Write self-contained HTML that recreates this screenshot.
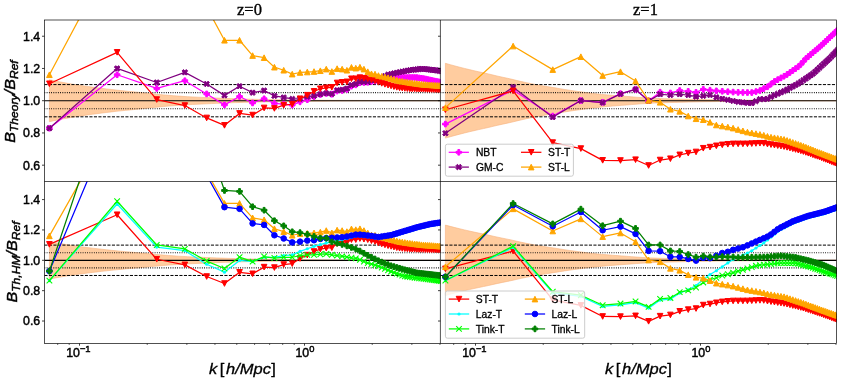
<!DOCTYPE html>
<html><head><meta charset="utf-8"><style>
html,body{margin:0;padding:0;background:#fff;}
body{width:843px;height:382px;overflow:hidden;}
svg{display:block;will-change:transform;}
text{font-family:"Liberation Sans",sans-serif;fill:#000;}
.tk{font-size:12.3px;stroke:#000;stroke-width:0.45px;}
.sup{font-size:9.4px;}
.lg{font-size:10.3px;fill:#000;stroke:#000;stroke-width:0.3px;}
.xl{font-size:14.6px;stroke:#000;stroke-width:0.3px;}
.it{font-style:italic;}
.ti{font-family:"Liberation Serif",serif;font-size:16.5px;stroke:#000;stroke-width:0.35px;}
.yl{font-size:15.4px;font-style:italic;stroke:#000;stroke-width:0.45px;}
.sub{font-size:11.6px;}
</style></head><body>
<svg width="843" height="382" viewBox="0 0 843 382">
<rect width="843" height="382" fill="#fff"/>
<clipPath id="c01"><rect x="44.4" y="20.0" width="396.0" height="161.5"/></clipPath>
<g clip-path="url(#c01)">
<path d="M49.40,79.74L54.17,80.75L58.94,81.70L63.70,82.61L68.47,83.47L73.24,84.28L78.01,85.04L82.77,85.76L87.54,86.45L92.31,87.11L97.08,87.74L101.84,88.36L106.61,88.95L111.38,89.51L116.15,90.05L120.91,90.56L125.68,91.05L130.45,91.52L135.22,91.97L139.98,92.40L144.75,92.95L149.52,93.49L154.29,94.00L159.05,94.47L163.82,94.90L168.59,95.31L173.36,95.69L178.12,96.05L182.89,96.37L187.66,96.68L192.43,96.93L197.20,97.17L201.96,97.40L206.73,97.60L211.50,97.80L216.27,98.03L221.03,98.25L225.80,98.44L230.57,98.62L235.34,98.79L240.10,98.94L244.87,99.07L249.64,99.20L254.41,99.31L259.17,99.41L263.94,99.51L268.71,99.60L273.48,99.68L278.24,99.76L283.01,99.83L287.78,99.90L292.55,99.96L297.31,100.01L302.08,100.06L306.85,100.11L311.62,100.16L316.39,100.20L321.15,100.23L325.92,100.27L330.69,100.30L335.46,100.33L340.22,100.36L344.99,100.38L349.76,100.41L354.53,100.43L359.29,100.45L364.06,100.47L368.83,100.49L373.60,100.50L378.36,100.52L383.13,100.53L387.90,100.54L392.67,100.56L397.43,100.57L402.20,100.58L406.97,100.59L411.74,100.59L416.50,100.60L421.27,100.61L426.04,100.62L430.81,100.62L435.57,100.63L440.34,100.63L440.34,100.77L435.57,100.77L430.81,100.78L426.04,100.78L421.27,100.79L416.50,100.80L411.74,100.81L406.97,100.81L402.20,100.82L397.43,100.83L392.67,100.84L387.90,100.86L383.13,100.87L378.36,100.88L373.60,100.90L368.83,100.91L364.06,100.93L359.29,100.95L354.53,100.97L349.76,100.99L344.99,101.02L340.22,101.04L335.46,101.07L330.69,101.10L325.92,101.13L321.15,101.17L316.39,101.20L311.62,101.24L306.85,101.29L302.08,101.34L297.31,101.39L292.55,101.44L287.78,101.50L283.01,101.57L278.24,101.64L273.48,101.72L268.71,101.80L263.94,101.89L259.17,101.99L254.41,102.09L249.64,102.20L244.87,102.33L240.10,102.46L235.34,102.61L230.57,102.78L225.80,102.96L221.03,103.15L216.27,103.37L211.50,103.60L206.73,103.80L201.96,104.00L197.20,104.23L192.43,104.47L187.66,104.72L182.89,105.03L178.12,105.35L173.36,105.71L168.59,106.09L163.82,106.50L159.05,106.93L154.29,107.40L149.52,107.91L144.75,108.45L139.98,109.00L135.22,109.43L130.45,109.88L125.68,110.35L120.91,110.84L116.15,111.35L111.38,111.89L106.61,112.45L101.84,113.04L97.08,113.66L92.31,114.29L87.54,114.95L82.77,115.64L78.01,116.36L73.24,117.12L68.47,117.93L63.70,118.79L58.94,119.70L54.17,120.65L49.40,121.66Z" fill="#ffcc9f" stroke="#f6b27e" stroke-width="0.6"/>
<line x1="44.4" x2="440.4" y1="100.70" y2="100.70" stroke="#000" stroke-width="1.15"/>
<line x1="44.4" x2="440.4" y1="84.58" y2="84.58" stroke="#000" stroke-width="1.0" stroke-dasharray="3.1 1.4"/>
<line x1="44.4" x2="440.4" y1="116.82" y2="116.82" stroke="#000" stroke-width="1.0" stroke-dasharray="3.1 1.4"/>
<line x1="44.4" x2="440.4" y1="92.64" y2="92.64" stroke="#000" stroke-width="1.1" stroke-dasharray="0.85 1.4"/>
<line x1="44.4" x2="440.4" y1="108.76" y2="108.76" stroke="#000" stroke-width="1.1" stroke-dasharray="0.85 1.4"/>
<path d="M49.40,128.27L117.13,74.75L156.75,88.45L184.86,80.71L206.67,93.93L224.48,104.89L239.55,96.51L252.60,102.96L264.10,98.77L274.40,103.44L283.71,104.09L292.22,105.05L300.04,101.83L307.28,99.73L314.02,96.67L320.33,94.57L326.25,93.45L331.84,94.25L337.12,91.03L342.13,90.54L346.90,89.42L351.45,86.19L355.79,84.90L359.95,82.65L363.94,82.48L367.77,82.32L371.46,81.36L375.01,81.03L378.44,80.55L381.75,79.59L384.96,78.67L388.06,78.05L391.07,77.84L393.98,77.64L396.82,77.45L399.57,77.35L402.25,77.43L404.85,77.49L407.39,77.49L409.86,77.49L412.28,77.49L414.63,77.49L416.93,77.60L419.18,77.95L421.37,78.29L423.52,78.62L425.62,79.03L427.68,79.49L429.69,79.93L431.67,80.37L433.60,80.81L435.50,81.20L437.36,81.58L439.19,81.96L440.98,82.33L442.74,82.69L444.47,83.05" fill="none" stroke="#ff00ff" stroke-width="1.25" stroke-linejoin="round"/>
<path d="M48.47,125.47L50.33,125.47L50.33,127.33L52.20,127.33L52.20,129.20L50.33,129.20L50.33,131.07L48.47,131.07L48.47,129.20L46.60,129.20L46.60,127.33L48.47,127.33ZM116.20,71.95L118.07,71.95L118.07,73.81L119.93,73.81L119.93,75.68L118.07,75.68L118.07,77.55L116.20,77.55L116.20,75.68L114.33,75.68L114.33,73.81L116.20,73.81ZM155.82,85.65L157.69,85.65L157.69,87.52L159.55,87.52L159.55,89.38L157.69,89.38L157.69,91.25L155.82,91.25L155.82,89.38L153.95,89.38L153.95,87.52L155.82,87.52ZM183.93,77.91L185.80,77.91L185.80,79.78L187.66,79.78L187.66,81.64L185.80,81.64L185.80,83.51L183.93,83.51L183.93,81.64L182.06,81.64L182.06,79.78L183.93,79.78ZM205.73,91.13L207.60,91.13L207.60,93.00L209.47,93.00L209.47,94.86L207.60,94.86L207.60,96.73L205.73,96.73L205.73,94.86L203.87,94.86L203.87,93.00L205.73,93.00ZM223.55,102.09L225.42,102.09L225.42,103.96L227.28,103.96L227.28,105.82L225.42,105.82L225.42,107.69L223.55,107.69L223.55,105.82L221.68,105.82L221.68,103.96L223.55,103.96ZM238.61,93.71L240.48,93.71L240.48,95.58L242.35,95.58L242.35,97.44L240.48,97.44L240.48,99.31L238.61,99.31L238.61,97.44L236.75,97.44L236.75,95.58L238.61,95.58ZM251.66,100.16L253.53,100.16L253.53,102.02L255.40,102.02L255.40,103.89L253.53,103.89L253.53,105.76L251.66,105.76L251.66,103.89L249.80,103.89L249.80,102.02L251.66,102.02ZM263.17,95.97L265.04,95.97L265.04,97.83L266.90,97.83L266.90,99.70L265.04,99.70L265.04,101.57L263.17,101.57L263.17,99.70L261.30,99.70L261.30,97.83L263.17,97.83ZM273.47,100.64L275.33,100.64L275.33,102.51L277.20,102.51L277.20,104.37L275.33,104.37L275.33,106.24L273.47,106.24L273.47,104.37L271.60,104.37L271.60,102.51L273.47,102.51ZM282.78,101.29L284.65,101.29L284.65,103.15L286.51,103.15L286.51,105.02L284.65,105.02L284.65,106.89L282.78,106.89L282.78,105.02L280.91,105.02L280.91,103.15L282.78,103.15ZM291.28,102.25L293.15,102.25L293.15,104.12L295.02,104.12L295.02,105.99L293.15,105.99L293.15,107.85L291.28,107.85L291.28,105.99L289.42,105.99L289.42,104.12L291.28,104.12ZM299.10,99.03L300.97,99.03L300.97,100.90L302.84,100.90L302.84,102.76L300.97,102.76L300.97,104.63L299.10,104.63L299.10,102.76L297.24,102.76L297.24,100.90L299.10,100.90ZM306.35,96.93L308.21,96.93L308.21,98.80L310.08,98.80L310.08,100.67L308.21,100.67L308.21,102.53L306.35,102.53L306.35,100.67L304.48,100.67L304.48,98.80L306.35,98.80ZM313.09,93.87L314.95,93.87L314.95,95.74L316.82,95.74L316.82,97.60L314.95,97.60L314.95,99.47L313.09,99.47L313.09,97.60L311.22,97.60L311.22,95.74L313.09,95.74ZM319.39,91.77L321.26,91.77L321.26,93.64L323.13,93.64L323.13,95.51L321.26,95.51L321.26,97.37L319.39,97.37L319.39,95.51L317.53,95.51L317.53,93.64L319.39,93.64ZM325.32,90.65L327.18,90.65L327.18,92.51L329.05,92.51L329.05,94.38L327.18,94.38L327.18,96.25L325.32,96.25L325.32,94.38L323.45,94.38L323.45,92.51L325.32,92.51ZM330.90,91.45L332.77,91.45L332.77,93.32L334.64,93.32L334.64,95.19L332.77,95.19L332.77,97.05L330.90,97.05L330.90,95.19L329.04,95.19L329.04,93.32L330.90,93.32ZM336.19,88.23L338.05,88.23L338.05,90.09L339.92,90.09L339.92,91.96L338.05,91.96L338.05,93.83L336.19,93.83L336.19,91.96L334.32,91.96L334.32,90.09L336.19,90.09ZM341.20,87.74L343.07,87.74L343.07,89.61L344.93,89.61L344.93,91.48L343.07,91.48L343.07,93.34L341.20,93.34L341.20,91.48L339.33,91.48L339.33,89.61L341.20,89.61ZM345.97,86.62L347.83,86.62L347.83,88.48L349.70,88.48L349.70,90.35L347.83,90.35L347.83,92.22L345.97,92.22L345.97,90.35L344.10,90.35L344.10,88.48L345.97,88.48ZM350.51,83.39L352.38,83.39L352.38,85.26L354.25,85.26L354.25,87.13L352.38,87.13L352.38,88.99L350.51,88.99L350.51,87.13L348.65,87.13L348.65,85.26L350.51,85.26ZM354.86,82.10L356.72,82.10L356.72,83.97L358.59,83.97L358.59,85.84L356.72,85.84L356.72,87.70L354.86,87.70L354.86,85.84L352.99,85.84L352.99,83.97L354.86,83.97ZM359.01,79.85L360.88,79.85L360.88,81.71L362.75,81.71L362.75,83.58L360.88,83.58L360.88,85.45L359.01,85.45L359.01,83.58L357.15,83.58L357.15,81.71L359.01,81.71ZM363.00,79.68L364.87,79.68L364.87,81.55L366.74,81.55L366.74,83.42L364.87,83.42L364.87,85.28L363.00,85.28L363.00,83.42L361.14,83.42L361.14,81.55L363.00,81.55ZM366.84,79.52L368.70,79.52L368.70,81.39L370.57,81.39L370.57,83.26L368.70,83.26L368.70,85.12L366.84,85.12L366.84,83.26L364.97,83.26L364.97,81.39L366.84,81.39ZM370.52,78.56L372.39,78.56L372.39,80.42L374.26,80.42L374.26,82.29L372.39,82.29L372.39,84.16L370.52,84.16L370.52,82.29L368.66,82.29L368.66,80.42L370.52,80.42ZM374.08,78.23L375.94,78.23L375.94,80.10L377.81,80.10L377.81,81.97L375.94,81.97L375.94,83.83L374.08,83.83L374.08,81.97L372.21,81.97L372.21,80.10L374.08,80.10ZM377.51,77.75L379.37,77.75L379.37,79.62L381.24,79.62L381.24,81.48L379.37,81.48L379.37,83.35L377.51,83.35L377.51,81.48L375.64,81.48L375.64,79.62L377.51,79.62ZM380.82,76.79L382.69,76.79L382.69,78.66L384.55,78.66L384.55,80.53L382.69,80.53L382.69,82.39L380.82,82.39L380.82,80.53L378.95,80.53L378.95,78.66L380.82,78.66ZM384.02,75.87L385.89,75.87L385.89,77.73L387.76,77.73L387.76,79.60L385.89,79.60L385.89,81.47L384.02,81.47L384.02,79.60L382.16,79.60L382.16,77.73L384.02,77.73ZM387.13,75.25L388.99,75.25L388.99,77.11L390.86,77.11L390.86,78.98L388.99,78.98L388.99,80.85L387.13,80.85L387.13,78.98L385.26,78.98L385.26,77.11L387.13,77.11ZM390.13,75.04L392.00,75.04L392.00,76.91L393.87,76.91L393.87,78.77L392.00,78.77L392.00,80.64L390.13,80.64L390.13,78.77L388.27,78.77L388.27,76.91L390.13,76.91ZM393.05,74.84L394.92,74.84L394.92,76.71L396.78,76.71L396.78,78.57L394.92,78.57L394.92,80.44L393.05,80.44L393.05,78.57L391.18,78.57L391.18,76.71L393.05,76.71ZM395.88,74.65L397.75,74.65L397.75,76.51L399.62,76.51L399.62,78.38L397.75,78.38L397.75,80.25L395.88,80.25L395.88,78.38L394.02,78.38L394.02,76.51L395.88,76.51ZM398.63,74.55L400.50,74.55L400.50,76.42L402.37,76.42L402.37,78.29L400.50,78.29L400.50,80.15L398.63,80.15L398.63,78.29L396.77,78.29L396.77,76.42L398.63,76.42ZM401.31,74.63L403.18,74.63L403.18,76.49L405.05,76.49L405.05,78.36L403.18,78.36L403.18,80.23L401.31,80.23L401.31,78.36L399.45,78.36L399.45,76.49L401.31,76.49ZM403.92,74.69L405.78,74.69L405.78,76.55L407.65,76.55L407.65,78.42L405.78,78.42L405.78,80.29L403.92,80.29L403.92,78.42L402.05,78.42L402.05,76.55L403.92,76.55ZM406.46,74.69L408.32,74.69L408.32,76.55L410.19,76.55L410.19,78.42L408.32,78.42L408.32,80.29L406.46,80.29L406.46,78.42L404.59,78.42L404.59,76.55L406.46,76.55ZM408.93,74.69L410.80,74.69L410.80,76.55L412.66,76.55L412.66,78.42L410.80,78.42L410.80,80.29L408.93,80.29L408.93,78.42L407.06,78.42L407.06,76.55L408.93,76.55ZM411.34,74.69L413.21,74.69L413.21,76.55L415.08,76.55L415.08,78.42L413.21,78.42L413.21,80.29L411.34,80.29L411.34,78.42L409.48,78.42L409.48,76.55L411.34,76.55ZM413.70,74.69L415.56,74.69L415.56,76.55L417.43,76.55L417.43,78.42L415.56,78.42L415.56,80.29L413.70,80.29L413.70,78.42L411.83,78.42L411.83,76.55L413.70,76.55ZM416.00,74.80L417.86,74.80L417.86,76.67L419.73,76.67L419.73,78.53L417.86,78.53L417.86,80.40L416.00,80.40L416.00,78.53L414.13,78.53L414.13,76.67L416.00,76.67ZM418.24,75.15L420.11,75.15L420.11,77.02L421.98,77.02L421.98,78.88L420.11,78.88L420.11,80.75L418.24,80.75L418.24,78.88L416.38,78.88L416.38,77.02L418.24,77.02ZM420.44,75.49L422.31,75.49L422.31,77.36L424.17,77.36L424.17,79.22L422.31,79.22L422.31,81.09L420.44,81.09L420.44,79.22L418.57,79.22L418.57,77.36L420.44,77.36ZM422.59,75.82L424.45,75.82L424.45,77.69L426.32,77.69L426.32,79.56L424.45,79.56L424.45,81.42L422.59,81.42L422.59,79.56L420.72,79.56L420.72,77.69L422.59,77.69ZM424.69,76.23L426.56,76.23L426.56,78.09L428.42,78.09L428.42,79.96L426.56,79.96L426.56,81.83L424.69,81.83L424.69,79.96L422.82,79.96L422.82,78.09L424.69,78.09ZM426.75,76.69L428.61,76.69L428.61,78.55L430.48,78.55L430.48,80.42L428.61,80.42L428.61,82.29L426.75,82.29L426.75,80.42L424.88,80.42L424.88,78.55L426.75,78.55ZM428.76,77.13L430.63,77.13L430.63,79.00L432.49,79.00L432.49,80.87L430.63,80.87L430.63,82.73L428.76,82.73L428.76,80.87L426.89,80.87L426.89,79.00L428.76,79.00ZM430.73,77.57L432.60,77.57L432.60,79.44L434.47,79.44L434.47,81.31L432.60,81.31L432.60,83.17L430.73,83.17L430.73,81.31L428.87,81.31L428.87,79.44L430.73,79.44ZM432.67,78.01L434.54,78.01L434.54,79.87L436.40,79.87L436.40,81.74L434.54,81.74L434.54,83.61L432.67,83.61L432.67,81.74L430.80,81.74L430.80,79.87L432.67,79.87ZM434.57,78.40L436.43,78.40L436.43,80.27L438.30,80.27L438.30,82.14L436.43,82.14L436.43,84.00L434.57,84.00L434.57,82.14L432.70,82.14L432.70,80.27L434.57,80.27ZM436.43,78.78L438.30,78.78L438.30,80.65L440.16,80.65L440.16,82.52L438.30,82.52L438.30,84.38L436.43,84.38L436.43,82.52L434.56,82.52L434.56,80.65L436.43,80.65ZM438.26,79.16L440.12,79.16L440.12,81.03L441.99,81.03L441.99,82.89L440.12,82.89L440.12,84.76L438.26,84.76L438.26,82.89L436.39,82.89L436.39,81.03L438.26,81.03ZM440.05,79.53L441.91,79.53L441.91,81.40L443.78,81.40L443.78,83.26L441.91,83.26L441.91,85.13L440.05,85.13L440.05,83.26L438.18,83.26L438.18,81.40L440.05,81.40ZM441.81,79.89L443.68,79.89L443.68,81.76L445.54,81.76L445.54,83.63L443.68,83.63L443.68,85.49L441.81,85.49L441.81,83.63L439.94,83.63L439.94,81.76L441.81,81.76ZM443.54,80.25L445.41,80.25L445.41,82.11L447.27,82.11L447.27,83.98L445.41,83.98L445.41,85.85L443.54,85.85L443.54,83.98L441.67,83.98L441.67,82.11L443.54,82.11Z" fill="#ff00ff" stroke="#ff00ff" stroke-width="1.0" stroke-linejoin="miter"/>
<path d="M49.40,128.27L117.13,68.46L156.75,82.48L184.86,72.33L206.67,83.94L224.48,95.38L239.55,86.19L252.60,92.64L264.10,90.54L274.40,95.86L283.71,97.48L292.22,98.93L300.04,98.77L307.28,96.67L314.02,95.86L320.33,94.25L326.25,93.28L331.84,93.93L337.12,90.22L342.13,89.74L346.90,88.61L351.45,85.06L355.79,83.94L359.95,81.52L363.94,81.52L367.77,81.36L371.46,80.23L375.01,80.07L378.44,79.74L381.75,77.83L384.96,75.97L388.06,74.63L391.07,73.98L393.98,73.34L396.82,72.72L399.57,72.14L402.25,71.63L404.85,71.13L407.39,70.65L409.86,70.17L412.28,69.87L414.63,69.61L416.93,69.35L419.18,69.10L421.37,68.86L423.52,68.94L425.62,69.17L427.68,69.39L429.69,69.61L431.67,69.83L433.60,70.04L435.50,70.29L437.36,70.54L439.19,70.79L440.98,71.04L442.74,71.28L444.47,71.52" fill="none" stroke="#800080" stroke-width="1.25" stroke-linejoin="round"/>
<path d="M48.00,125.47L49.40,126.87L50.80,125.47L52.20,126.87L50.80,128.27L52.20,129.67L50.80,131.07L49.40,129.67L48.00,131.07L46.60,129.67L48.00,128.27L46.60,126.87ZM115.73,65.66L117.13,67.06L118.53,65.66L119.93,67.06L118.53,68.46L119.93,69.86L118.53,71.26L117.13,69.86L115.73,71.26L114.33,69.86L115.73,68.46L114.33,67.06ZM155.35,79.68L156.75,81.08L158.15,79.68L159.55,81.08L158.15,82.48L159.55,83.88L158.15,85.28L156.75,83.88L155.35,85.28L153.95,83.88L155.35,82.48L153.95,81.08ZM183.46,69.53L184.86,70.93L186.26,69.53L187.66,70.93L186.26,72.33L187.66,73.73L186.26,75.13L184.86,73.73L183.46,75.13L182.06,73.73L183.46,72.33L182.06,70.93ZM205.27,81.14L206.67,82.54L208.07,81.14L209.47,82.54L208.07,83.94L209.47,85.34L208.07,86.74L206.67,85.34L205.27,86.74L203.87,85.34L205.27,83.94L203.87,82.54ZM223.08,92.58L224.48,93.98L225.88,92.58L227.28,93.98L225.88,95.38L227.28,96.78L225.88,98.18L224.48,96.78L223.08,98.18L221.68,96.78L223.08,95.38L221.68,93.98ZM238.15,83.39L239.55,84.79L240.95,83.39L242.35,84.79L240.95,86.19L242.35,87.59L240.95,88.99L239.55,87.59L238.15,88.99L236.75,87.59L238.15,86.19L236.75,84.79ZM251.20,89.84L252.60,91.24L254.00,89.84L255.40,91.24L254.00,92.64L255.40,94.04L254.00,95.44L252.60,94.04L251.20,95.44L249.80,94.04L251.20,92.64L249.80,91.24ZM262.70,87.74L264.10,89.14L265.50,87.74L266.90,89.14L265.50,90.54L266.90,91.94L265.50,93.34L264.10,91.94L262.70,93.34L261.30,91.94L262.70,90.54L261.30,89.14ZM273.00,93.06L274.40,94.46L275.80,93.06L277.20,94.46L275.80,95.86L277.20,97.26L275.80,98.66L274.40,97.26L273.00,98.66L271.60,97.26L273.00,95.86L271.60,94.46ZM282.31,94.68L283.71,96.08L285.11,94.68L286.51,96.08L285.11,97.48L286.51,98.88L285.11,100.28L283.71,98.88L282.31,100.28L280.91,98.88L282.31,97.48L280.91,96.08ZM290.82,96.13L292.22,97.53L293.62,96.13L295.02,97.53L293.62,98.93L295.02,100.33L293.62,101.73L292.22,100.33L290.82,101.73L289.42,100.33L290.82,98.93L289.42,97.53ZM298.64,95.97L300.04,97.37L301.44,95.97L302.84,97.37L301.44,98.77L302.84,100.17L301.44,101.57L300.04,100.17L298.64,101.57L297.24,100.17L298.64,98.77L297.24,97.37ZM305.88,93.87L307.28,95.27L308.68,93.87L310.08,95.27L308.68,96.67L310.08,98.07L308.68,99.47L307.28,98.07L305.88,99.47L304.48,98.07L305.88,96.67L304.48,95.27ZM312.62,93.06L314.02,94.46L315.42,93.06L316.82,94.46L315.42,95.86L316.82,97.26L315.42,98.66L314.02,97.26L312.62,98.66L311.22,97.26L312.62,95.86L311.22,94.46ZM318.93,91.45L320.33,92.85L321.73,91.45L323.13,92.85L321.73,94.25L323.13,95.65L321.73,97.05L320.33,95.65L318.93,97.05L317.53,95.65L318.93,94.25L317.53,92.85ZM324.85,90.48L326.25,91.88L327.65,90.48L329.05,91.88L327.65,93.28L329.05,94.68L327.65,96.08L326.25,94.68L324.85,96.08L323.45,94.68L324.85,93.28L323.45,91.88ZM330.44,91.13L331.84,92.53L333.24,91.13L334.64,92.53L333.24,93.93L334.64,95.33L333.24,96.73L331.84,95.33L330.44,96.73L329.04,95.33L330.44,93.93L329.04,92.53ZM335.72,87.42L337.12,88.82L338.52,87.42L339.92,88.82L338.52,90.22L339.92,91.62L338.52,93.02L337.12,91.62L335.72,93.02L334.32,91.62L335.72,90.22L334.32,88.82ZM340.73,86.94L342.13,88.34L343.53,86.94L344.93,88.34L343.53,89.74L344.93,91.14L343.53,92.54L342.13,91.14L340.73,92.54L339.33,91.14L340.73,89.74L339.33,88.34ZM345.50,85.81L346.90,87.21L348.30,85.81L349.70,87.21L348.30,88.61L349.70,90.01L348.30,91.41L346.90,90.01L345.50,91.41L344.10,90.01L345.50,88.61L344.10,87.21ZM350.05,82.26L351.45,83.66L352.85,82.26L354.25,83.66L352.85,85.06L354.25,86.46L352.85,87.86L351.45,86.46L350.05,87.86L348.65,86.46L350.05,85.06L348.65,83.66ZM354.39,81.14L355.79,82.54L357.19,81.14L358.59,82.54L357.19,83.94L358.59,85.34L357.19,86.74L355.79,85.34L354.39,86.74L352.99,85.34L354.39,83.94L352.99,82.54ZM358.55,78.72L359.95,80.12L361.35,78.72L362.75,80.12L361.35,81.52L362.75,82.92L361.35,84.32L359.95,82.92L358.55,84.32L357.15,82.92L358.55,81.52L357.15,80.12ZM362.54,78.72L363.94,80.12L365.34,78.72L366.74,80.12L365.34,81.52L366.74,82.92L365.34,84.32L363.94,82.92L362.54,84.32L361.14,82.92L362.54,81.52L361.14,80.12ZM366.37,78.56L367.77,79.96L369.17,78.56L370.57,79.96L369.17,81.36L370.57,82.76L369.17,84.16L367.77,82.76L366.37,84.16L364.97,82.76L366.37,81.36L364.97,79.96ZM370.06,77.43L371.46,78.83L372.86,77.43L374.26,78.83L372.86,80.23L374.26,81.63L372.86,83.03L371.46,81.63L370.06,83.03L368.66,81.63L370.06,80.23L368.66,78.83ZM373.61,77.27L375.01,78.67L376.41,77.27L377.81,78.67L376.41,80.07L377.81,81.47L376.41,82.87L375.01,81.47L373.61,82.87L372.21,81.47L373.61,80.07L372.21,78.67ZM377.04,76.94L378.44,78.34L379.84,76.94L381.24,78.34L379.84,79.74L381.24,81.14L379.84,82.54L378.44,81.14L377.04,82.54L375.64,81.14L377.04,79.74L375.64,78.34ZM380.35,75.03L381.75,76.43L383.15,75.03L384.55,76.43L383.15,77.83L384.55,79.23L383.15,80.63L381.75,79.23L380.35,80.63L378.95,79.23L380.35,77.83L378.95,76.43ZM383.56,73.17L384.96,74.57L386.36,73.17L387.76,74.57L386.36,75.97L387.76,77.37L386.36,78.77L384.96,77.37L383.56,78.77L382.16,77.37L383.56,75.97L382.16,74.57ZM386.66,71.83L388.06,73.23L389.46,71.83L390.86,73.23L389.46,74.63L390.86,76.03L389.46,77.43L388.06,76.03L386.66,77.43L385.26,76.03L386.66,74.63L385.26,73.23ZM389.67,71.18L391.07,72.58L392.47,71.18L393.87,72.58L392.47,73.98L393.87,75.38L392.47,76.78L391.07,75.38L389.67,76.78L388.27,75.38L389.67,73.98L388.27,72.58ZM392.58,70.54L393.98,71.94L395.38,70.54L396.78,71.94L395.38,73.34L396.78,74.74L395.38,76.14L393.98,74.74L392.58,76.14L391.18,74.74L392.58,73.34L391.18,71.94ZM395.42,69.92L396.82,71.32L398.22,69.92L399.62,71.32L398.22,72.72L399.62,74.12L398.22,75.52L396.82,74.12L395.42,75.52L394.02,74.12L395.42,72.72L394.02,71.32ZM398.17,69.34L399.57,70.74L400.97,69.34L402.37,70.74L400.97,72.14L402.37,73.54L400.97,74.94L399.57,73.54L398.17,74.94L396.77,73.54L398.17,72.14L396.77,70.74ZM400.85,68.83L402.25,70.23L403.65,68.83L405.05,70.23L403.65,71.63L405.05,73.03L403.65,74.43L402.25,73.03L400.85,74.43L399.45,73.03L400.85,71.63L399.45,70.23ZM403.45,68.33L404.85,69.73L406.25,68.33L407.65,69.73L406.25,71.13L407.65,72.53L406.25,73.93L404.85,72.53L403.45,73.93L402.05,72.53L403.45,71.13L402.05,69.73ZM405.99,67.85L407.39,69.25L408.79,67.85L410.19,69.25L408.79,70.65L410.19,72.05L408.79,73.45L407.39,72.05L405.99,73.45L404.59,72.05L405.99,70.65L404.59,69.25ZM408.46,67.37L409.86,68.77L411.26,67.37L412.66,68.77L411.26,70.17L412.66,71.57L411.26,72.97L409.86,71.57L408.46,72.97L407.06,71.57L408.46,70.17L407.06,68.77ZM410.88,67.07L412.28,68.47L413.68,67.07L415.08,68.47L413.68,69.87L415.08,71.27L413.68,72.67L412.28,71.27L410.88,72.67L409.48,71.27L410.88,69.87L409.48,68.47ZM413.23,66.81L414.63,68.21L416.03,66.81L417.43,68.21L416.03,69.61L417.43,71.01L416.03,72.41L414.63,71.01L413.23,72.41L411.83,71.01L413.23,69.61L411.83,68.21ZM415.53,66.55L416.93,67.95L418.33,66.55L419.73,67.95L418.33,69.35L419.73,70.75L418.33,72.15L416.93,70.75L415.53,72.15L414.13,70.75L415.53,69.35L414.13,67.95ZM417.78,66.30L419.18,67.70L420.58,66.30L421.98,67.70L420.58,69.10L421.98,70.50L420.58,71.90L419.18,70.50L417.78,71.90L416.38,70.50L417.78,69.10L416.38,67.70ZM419.97,66.06L421.37,67.46L422.77,66.06L424.17,67.46L422.77,68.86L424.17,70.26L422.77,71.66L421.37,70.26L419.97,71.66L418.57,70.26L419.97,68.86L418.57,67.46ZM422.12,66.14L423.52,67.54L424.92,66.14L426.32,67.54L424.92,68.94L426.32,70.34L424.92,71.74L423.52,70.34L422.12,71.74L420.72,70.34L422.12,68.94L420.72,67.54ZM424.22,66.37L425.62,67.77L427.02,66.37L428.42,67.77L427.02,69.17L428.42,70.57L427.02,71.97L425.62,70.57L424.22,71.97L422.82,70.57L424.22,69.17L422.82,67.77ZM426.28,66.59L427.68,67.99L429.08,66.59L430.48,67.99L429.08,69.39L430.48,70.79L429.08,72.19L427.68,70.79L426.28,72.19L424.88,70.79L426.28,69.39L424.88,67.99ZM428.29,66.81L429.69,68.21L431.09,66.81L432.49,68.21L431.09,69.61L432.49,71.01L431.09,72.41L429.69,71.01L428.29,72.41L426.89,71.01L428.29,69.61L426.89,68.21ZM430.27,67.03L431.67,68.43L433.07,67.03L434.47,68.43L433.07,69.83L434.47,71.23L433.07,72.63L431.67,71.23L430.27,72.63L428.87,71.23L430.27,69.83L428.87,68.43ZM432.20,67.24L433.60,68.64L435.00,67.24L436.40,68.64L435.00,70.04L436.40,71.44L435.00,72.84L433.60,71.44L432.20,72.84L430.80,71.44L432.20,70.04L430.80,68.64ZM434.10,67.49L435.50,68.89L436.90,67.49L438.30,68.89L436.90,70.29L438.30,71.69L436.90,73.09L435.50,71.69L434.10,73.09L432.70,71.69L434.10,70.29L432.70,68.89ZM435.96,67.74L437.36,69.14L438.76,67.74L440.16,69.14L438.76,70.54L440.16,71.94L438.76,73.34L437.36,71.94L435.96,73.34L434.56,71.94L435.96,70.54L434.56,69.14ZM437.79,67.99L439.19,69.39L440.59,67.99L441.99,69.39L440.59,70.79L441.99,72.19L440.59,73.59L439.19,72.19L437.79,73.59L436.39,72.19L437.79,70.79L436.39,69.39ZM439.58,68.24L440.98,69.64L442.38,68.24L443.78,69.64L442.38,71.04L443.78,72.44L442.38,73.84L440.98,72.44L439.58,73.84L438.18,72.44L439.58,71.04L438.18,69.64ZM441.34,68.48L442.74,69.88L444.14,68.48L445.54,69.88L444.14,71.28L445.54,72.68L444.14,74.08L442.74,72.68L441.34,74.08L439.94,72.68L441.34,71.28L439.94,69.88ZM443.07,68.72L444.47,70.12L445.87,68.72L447.27,70.12L445.87,71.52L447.27,72.92L445.87,74.32L444.47,72.92L443.07,74.32L441.67,72.92L443.07,71.52L441.67,70.12Z" fill="#800080" stroke="#800080" stroke-width="1.0" stroke-linejoin="miter"/>
<path d="M49.40,83.77L117.13,52.34L156.75,99.57L184.86,105.54L206.67,117.95L224.48,125.36L239.55,113.43L252.60,115.05L264.10,107.95L274.40,108.44L283.71,105.21L292.22,104.25L300.04,98.77L307.28,95.22L314.02,91.35L320.33,88.77L326.25,87.80L331.84,87.32L337.12,82.97L342.13,82.32L346.90,81.84L351.45,78.78L355.79,78.78L359.95,77.65L363.94,78.29L367.77,78.78L371.46,79.91L375.01,80.71L378.44,82.32L381.75,83.35L384.96,84.33L388.06,85.21L391.07,85.95L393.98,86.67L396.82,87.37L399.57,87.90L402.25,88.15L404.85,88.40L407.39,88.64L409.86,88.88L412.28,88.98L414.63,89.05L416.93,89.11L419.18,89.17L421.37,89.23L423.52,89.29L425.62,89.35L427.68,89.41L429.69,89.46L431.67,89.52L433.60,89.57L435.50,89.62L437.36,89.67L439.19,89.72L440.98,89.77L442.74,89.82L444.47,89.87" fill="none" stroke="#ff0000" stroke-width="1.25" stroke-linejoin="round"/>
<path d="M46.60,80.97L52.20,80.97L49.40,86.57ZM114.33,49.54L119.93,49.54L117.13,55.14ZM153.95,96.77L159.55,96.77L156.75,102.37ZM182.06,102.74L187.66,102.74L184.86,108.34ZM203.87,115.15L209.47,115.15L206.67,120.75ZM221.68,122.56L227.28,122.56L224.48,128.16ZM236.75,110.63L242.35,110.63L239.55,116.23ZM249.80,112.25L255.40,112.25L252.60,117.85ZM261.30,105.15L266.90,105.15L264.10,110.75ZM271.60,105.64L277.20,105.64L274.40,111.24ZM280.91,102.41L286.51,102.41L283.71,108.01ZM289.42,101.45L295.02,101.45L292.22,107.05ZM297.24,95.97L302.84,95.97L300.04,101.57ZM304.48,92.42L310.08,92.42L307.28,98.02ZM311.22,88.55L316.82,88.55L314.02,94.15ZM317.53,85.97L323.13,85.97L320.33,91.57ZM323.45,85.00L329.05,85.00L326.25,90.60ZM329.04,84.52L334.64,84.52L331.84,90.12ZM334.32,80.17L339.92,80.17L337.12,85.77ZM339.33,79.52L344.93,79.52L342.13,85.12ZM344.10,79.04L349.70,79.04L346.90,84.64ZM348.65,75.98L354.25,75.98L351.45,81.58ZM352.99,75.98L358.59,75.98L355.79,81.58ZM357.15,74.85L362.75,74.85L359.95,80.45ZM361.14,75.49L366.74,75.49L363.94,81.09ZM364.97,75.98L370.57,75.98L367.77,81.58ZM368.66,77.11L374.26,77.11L371.46,82.71ZM372.21,77.91L377.81,77.91L375.01,83.51ZM375.64,79.52L381.24,79.52L378.44,85.12ZM378.95,80.55L384.55,80.55L381.75,86.15ZM382.16,81.53L387.76,81.53L384.96,87.13ZM385.26,82.41L390.86,82.41L388.06,88.01ZM388.27,83.15L393.87,83.15L391.07,88.75ZM391.18,83.87L396.78,83.87L393.98,89.47ZM394.02,84.57L399.62,84.57L396.82,90.17ZM396.77,85.10L402.37,85.10L399.57,90.70ZM399.45,85.35L405.05,85.35L402.25,90.95ZM402.05,85.60L407.65,85.60L404.85,91.20ZM404.59,85.84L410.19,85.84L407.39,91.44ZM407.06,86.08L412.66,86.08L409.86,91.68ZM409.48,86.18L415.08,86.18L412.28,91.78ZM411.83,86.25L417.43,86.25L414.63,91.85ZM414.13,86.31L419.73,86.31L416.93,91.91ZM416.38,86.37L421.98,86.37L419.18,91.97ZM418.57,86.43L424.17,86.43L421.37,92.03ZM420.72,86.49L426.32,86.49L423.52,92.09ZM422.82,86.55L428.42,86.55L425.62,92.15ZM424.88,86.61L430.48,86.61L427.68,92.21ZM426.89,86.66L432.49,86.66L429.69,92.26ZM428.87,86.72L434.47,86.72L431.67,92.32ZM430.80,86.77L436.40,86.77L433.60,92.37ZM432.70,86.82L438.30,86.82L435.50,92.42ZM434.56,86.87L440.16,86.87L437.36,92.47ZM436.39,86.92L441.99,86.92L439.19,92.52ZM438.18,86.97L443.78,86.97L440.98,92.57ZM439.94,87.02L445.54,87.02L442.74,92.62ZM441.67,87.07L447.27,87.07L444.47,92.67Z" fill="#ff0000" stroke="#ff0000" stroke-width="1.0" stroke-linejoin="miter"/>
<path d="M49.40,74.75L117.13,-52.44L156.75,-28.26L184.86,-12.14L206.67,7.20L224.48,40.25L239.55,40.25L252.60,55.56L264.10,57.66L274.40,67.17L283.71,70.23L292.22,74.10L300.04,72.49L307.28,72.01L314.02,71.52L320.33,70.72L326.25,69.10L331.84,71.52L337.12,68.62L342.13,69.10L346.90,70.23L351.45,67.33L355.79,68.14L359.95,67.17L363.94,69.10L367.77,71.68L371.46,73.78L375.01,74.10L378.44,75.55L381.75,76.26L384.96,76.93L388.06,77.69L391.07,78.55L393.98,79.39L396.82,80.20L399.57,80.87L402.25,81.31L404.85,81.74L407.39,82.15L409.86,82.56L412.28,82.90L414.63,83.23L416.93,83.55L419.18,83.85L421.37,84.16L423.52,84.36L425.62,84.51L427.68,84.66L429.69,84.81L431.67,84.95L433.60,85.10L435.50,85.23L437.36,85.37L439.19,85.50L440.98,85.63L442.74,85.76L444.47,85.89" fill="none" stroke="#ffa500" stroke-width="1.25" stroke-linejoin="round"/>
<path d="M46.60,77.55L52.20,77.55L49.40,71.95ZM114.33,-49.64L119.93,-49.64L117.13,-55.24ZM153.95,-25.46L159.55,-25.46L156.75,-31.06ZM182.06,-9.34L187.66,-9.34L184.86,-14.94ZM203.87,10.00L209.47,10.00L206.67,4.40ZM221.68,43.05L227.28,43.05L224.48,37.45ZM236.75,43.05L242.35,43.05L239.55,37.45ZM249.80,58.36L255.40,58.36L252.60,52.76ZM261.30,60.46L266.90,60.46L264.10,54.86ZM271.60,69.97L277.20,69.97L274.40,64.37ZM280.91,73.03L286.51,73.03L283.71,67.43ZM289.42,76.90L295.02,76.90L292.22,71.30ZM297.24,75.29L302.84,75.29L300.04,69.69ZM304.48,74.81L310.08,74.81L307.28,69.21ZM311.22,74.32L316.82,74.32L314.02,68.72ZM317.53,73.52L323.13,73.52L320.33,67.92ZM323.45,71.90L329.05,71.90L326.25,66.30ZM329.04,74.32L334.64,74.32L331.84,68.72ZM334.32,71.42L339.92,71.42L337.12,65.82ZM339.33,71.90L344.93,71.90L342.13,66.30ZM344.10,73.03L349.70,73.03L346.90,67.43ZM348.65,70.13L354.25,70.13L351.45,64.53ZM352.99,70.94L358.59,70.94L355.79,65.34ZM357.15,69.97L362.75,69.97L359.95,64.37ZM361.14,71.90L366.74,71.90L363.94,66.30ZM364.97,74.48L370.57,74.48L367.77,68.88ZM368.66,76.58L374.26,76.58L371.46,70.98ZM372.21,76.90L377.81,76.90L375.01,71.30ZM375.64,78.35L381.24,78.35L378.44,72.75ZM378.95,79.06L384.55,79.06L381.75,73.46ZM382.16,79.73L387.76,79.73L384.96,74.13ZM385.26,80.49L390.86,80.49L388.06,74.89ZM388.27,81.35L393.87,81.35L391.07,75.75ZM391.18,82.19L396.78,82.19L393.98,76.59ZM394.02,83.00L399.62,83.00L396.82,77.40ZM396.77,83.67L402.37,83.67L399.57,78.07ZM399.45,84.11L405.05,84.11L402.25,78.51ZM402.05,84.54L407.65,84.54L404.85,78.94ZM404.59,84.95L410.19,84.95L407.39,79.35ZM407.06,85.36L412.66,85.36L409.86,79.76ZM409.48,85.70L415.08,85.70L412.28,80.10ZM411.83,86.03L417.43,86.03L414.63,80.43ZM414.13,86.35L419.73,86.35L416.93,80.75ZM416.38,86.65L421.98,86.65L419.18,81.05ZM418.57,86.96L424.17,86.96L421.37,81.36ZM420.72,87.16L426.32,87.16L423.52,81.56ZM422.82,87.31L428.42,87.31L425.62,81.71ZM424.88,87.46L430.48,87.46L427.68,81.86ZM426.89,87.61L432.49,87.61L429.69,82.01ZM428.87,87.75L434.47,87.75L431.67,82.15ZM430.80,87.90L436.40,87.90L433.60,82.30ZM432.70,88.03L438.30,88.03L435.50,82.43ZM434.56,88.17L440.16,88.17L437.36,82.57ZM436.39,88.30L441.99,88.30L439.19,82.70ZM438.18,88.43L443.78,88.43L440.98,82.83ZM439.94,88.56L445.54,88.56L442.74,82.96ZM441.67,88.69L447.27,88.69L444.47,83.09Z" fill="#ffa500" stroke="#ffa500" stroke-width="1.0" stroke-linejoin="miter"/>
</g>
<clipPath id="c11"><rect x="440.4" y="20.0" width="396.20000000000005" height="161.5"/></clipPath>
<g clip-path="url(#c11)">
<path d="M445.40,63.30L450.17,64.65L454.94,65.96L459.70,67.21L464.47,68.42L469.24,69.59L474.01,70.71L478.77,71.80L483.54,72.84L488.31,73.89L493.08,75.06L497.84,76.18L502.61,77.24L507.38,78.26L512.15,79.32L516.91,80.50L521.68,81.62L526.45,82.67L531.22,83.67L535.98,84.60L540.75,85.47L545.52,86.30L550.29,87.08L555.05,87.81L559.82,88.66L564.59,89.46L569.36,90.20L574.12,90.90L578.89,91.55L583.66,92.22L588.43,92.85L593.20,93.43L597.96,93.96L602.73,94.46L607.50,94.90L612.27,95.31L617.03,95.69L621.80,96.04L626.57,96.39L631.34,96.82L636.10,97.21L640.87,97.56L645.64,97.87L650.41,98.15L655.17,98.34L659.94,98.52L664.71,98.68L669.48,98.83L674.24,98.97L679.01,99.10L683.78,99.22L688.55,99.33L693.31,99.43L698.08,99.53L702.85,99.62L707.62,99.70L712.39,99.77L717.15,99.84L721.92,99.91L726.69,99.97L731.46,100.02L736.22,100.07L740.99,100.12L745.76,100.16L750.53,100.20L755.29,100.24L760.06,100.28L764.83,100.31L769.60,100.34L774.36,100.36L779.13,100.39L783.90,100.41L788.67,100.43L793.43,100.45L798.20,100.47L802.97,100.49L807.74,100.51L812.50,100.52L817.27,100.53L822.04,100.55L826.81,100.56L831.57,100.57L836.34,100.58L836.34,100.82L831.57,100.83L826.81,100.84L822.04,100.85L817.27,100.87L812.50,100.88L807.74,100.89L802.97,100.91L798.20,100.93L793.43,100.95L788.67,100.97L783.90,100.99L779.13,101.01L774.36,101.04L769.60,101.06L764.83,101.09L760.06,101.12L755.29,101.16L750.53,101.20L745.76,101.24L740.99,101.28L736.22,101.33L731.46,101.38L726.69,101.43L721.92,101.49L717.15,101.56L712.39,101.63L707.62,101.70L702.85,101.78L698.08,101.87L693.31,101.97L688.55,102.07L683.78,102.18L679.01,102.30L674.24,102.43L669.48,102.57L664.71,102.72L659.94,102.88L655.17,103.06L650.41,103.25L645.64,103.53L640.87,103.84L636.10,104.19L631.34,104.58L626.57,105.01L621.80,105.36L617.03,105.71L612.27,106.09L607.50,106.50L602.73,106.94L597.96,107.44L593.20,107.97L588.43,108.55L583.66,109.18L578.89,109.85L574.12,110.50L569.36,111.20L564.59,111.94L559.82,112.74L555.05,113.59L550.29,114.32L545.52,115.10L540.75,115.93L535.98,116.80L531.22,117.73L526.45,118.73L521.68,119.78L516.91,120.90L512.15,122.08L507.38,123.14L502.61,124.16L497.84,125.22L493.08,126.34L488.31,127.51L483.54,128.56L478.77,129.60L474.01,130.69L469.24,131.81L464.47,132.98L459.70,134.19L454.94,135.44L450.17,136.75L445.40,138.10Z" fill="#ffcc9f" stroke="#f6b27e" stroke-width="0.6"/>
<line x1="440.4" x2="836.6" y1="100.70" y2="100.70" stroke="#000" stroke-width="1.15"/>
<line x1="440.4" x2="836.6" y1="84.58" y2="84.58" stroke="#000" stroke-width="1.0" stroke-dasharray="3.1 1.4"/>
<line x1="440.4" x2="836.6" y1="116.82" y2="116.82" stroke="#000" stroke-width="1.0" stroke-dasharray="3.1 1.4"/>
<line x1="440.4" x2="836.6" y1="92.64" y2="92.64" stroke="#000" stroke-width="1.1" stroke-dasharray="0.85 1.4"/>
<line x1="440.4" x2="836.6" y1="108.76" y2="108.76" stroke="#000" stroke-width="1.1" stroke-dasharray="0.85 1.4"/>
<path d="M445.40,124.07L513.13,89.90L552.75,116.01L580.86,100.54L602.67,102.31L620.48,93.61L635.55,89.42L648.60,100.70L660.10,92.16L670.40,92.96L679.71,90.54L688.22,91.35L696.04,92.32L703.28,89.42L710.02,90.22L716.33,90.84L722.25,91.30L727.84,91.70L733.12,92.07L738.13,92.35L742.90,92.45L747.45,92.55L751.79,92.53L755.95,91.56L759.94,90.54L763.77,88.64L767.46,86.81L771.01,84.08L774.44,81.44L777.75,79.64L780.96,77.91L784.06,76.23L787.07,74.47L789.98,72.46L792.82,70.51L795.57,68.61L798.25,66.77L800.85,64.28L803.39,61.41L805.86,58.65L808.28,56.59L810.63,54.59L812.93,52.63L815.18,50.71L817.37,48.84L819.52,47.01L821.62,45.20L823.68,43.25L825.69,41.33L827.67,39.46L829.60,37.62L831.50,35.82L833.36,34.06L835.19,32.32L836.98,30.62L838.74,28.95L840.47,27.31" fill="none" stroke="#ff00ff" stroke-width="1.25" stroke-linejoin="round"/>
<path d="M444.47,121.27L446.33,121.27L446.33,123.14L448.20,123.14L448.20,125.01L446.33,125.01L446.33,126.87L444.47,126.87L444.47,125.01L442.60,125.01L442.60,123.14L444.47,123.14ZM512.20,87.10L514.07,87.10L514.07,88.97L515.93,88.97L515.93,90.83L514.07,90.83L514.07,92.70L512.20,92.70L512.20,90.83L510.33,90.83L510.33,88.97L512.20,88.97ZM551.82,113.21L553.69,113.21L553.69,115.08L555.55,115.08L555.55,116.95L553.69,116.95L553.69,118.81L551.82,118.81L551.82,116.95L549.95,116.95L549.95,115.08L551.82,115.08ZM579.93,97.74L581.80,97.74L581.80,99.61L583.66,99.61L583.66,101.47L581.80,101.47L581.80,103.34L579.93,103.34L579.93,101.47L578.06,101.47L578.06,99.61L579.93,99.61ZM601.73,99.51L603.60,99.51L603.60,101.38L605.47,101.38L605.47,103.25L603.60,103.25L603.60,105.11L601.73,105.11L601.73,103.25L599.87,103.25L599.87,101.38L601.73,101.38ZM619.55,90.81L621.42,90.81L621.42,92.67L623.28,92.67L623.28,94.54L621.42,94.54L621.42,96.41L619.55,96.41L619.55,94.54L617.68,94.54L617.68,92.67L619.55,92.67ZM634.61,86.62L636.48,86.62L636.48,88.48L638.35,88.48L638.35,90.35L636.48,90.35L636.48,92.22L634.61,92.22L634.61,90.35L632.75,90.35L632.75,88.48L634.61,88.48ZM647.66,97.90L649.53,97.90L649.53,99.77L651.40,99.77L651.40,101.63L649.53,101.63L649.53,103.50L647.66,103.50L647.66,101.63L645.80,101.63L645.80,99.77L647.66,99.77ZM659.17,89.36L661.04,89.36L661.04,91.22L662.90,91.22L662.90,93.09L661.04,93.09L661.04,94.96L659.17,94.96L659.17,93.09L657.30,93.09L657.30,91.22L659.17,91.22ZM669.47,90.16L671.33,90.16L671.33,92.03L673.20,92.03L673.20,93.90L671.33,93.90L671.33,95.76L669.47,95.76L669.47,93.90L667.60,93.90L667.60,92.03L669.47,92.03ZM678.78,87.74L680.65,87.74L680.65,89.61L682.51,89.61L682.51,91.48L680.65,91.48L680.65,93.34L678.78,93.34L678.78,91.48L676.91,91.48L676.91,89.61L678.78,89.61ZM687.28,88.55L689.15,88.55L689.15,90.42L691.02,90.42L691.02,92.28L689.15,92.28L689.15,94.15L687.28,94.15L687.28,92.28L685.42,92.28L685.42,90.42L687.28,90.42ZM695.10,89.52L696.97,89.52L696.97,91.38L698.84,91.38L698.84,93.25L696.97,93.25L696.97,95.12L695.10,95.12L695.10,93.25L693.24,93.25L693.24,91.38L695.10,91.38ZM702.35,86.62L704.21,86.62L704.21,88.48L706.08,88.48L706.08,90.35L704.21,90.35L704.21,92.22L702.35,92.22L702.35,90.35L700.48,90.35L700.48,88.48L702.35,88.48ZM709.09,87.42L710.95,87.42L710.95,89.29L712.82,89.29L712.82,91.16L710.95,91.16L710.95,93.02L709.09,93.02L709.09,91.16L707.22,91.16L707.22,89.29L709.09,89.29ZM715.39,88.04L717.26,88.04L717.26,89.90L719.13,89.90L719.13,91.77L717.26,91.77L717.26,93.64L715.39,93.64L715.39,91.77L713.53,91.77L713.53,89.90L715.39,89.90ZM721.32,88.50L723.18,88.50L723.18,90.37L725.05,90.37L725.05,92.24L723.18,92.24L723.18,94.10L721.32,94.10L721.32,92.24L719.45,92.24L719.45,90.37L721.32,90.37ZM726.90,88.90L728.77,88.90L728.77,90.76L730.64,90.76L730.64,92.63L728.77,92.63L728.77,94.50L726.90,94.50L726.90,92.63L725.04,92.63L725.04,90.76L726.90,90.76ZM732.19,89.27L734.05,89.27L734.05,91.13L735.92,91.13L735.92,93.00L734.05,93.00L734.05,94.87L732.19,94.87L732.19,93.00L730.32,93.00L730.32,91.13L732.19,91.13ZM737.20,89.55L739.07,89.55L739.07,91.42L740.93,91.42L740.93,93.28L739.07,93.28L739.07,95.15L737.20,95.15L737.20,93.28L735.33,93.28L735.33,91.42L737.20,91.42ZM741.97,89.65L743.83,89.65L743.83,91.52L745.70,91.52L745.70,93.39L743.83,93.39L743.83,95.25L741.97,95.25L741.97,93.39L740.10,93.39L740.10,91.52L741.97,91.52ZM746.51,89.75L748.38,89.75L748.38,91.62L750.25,91.62L750.25,93.49L748.38,93.49L748.38,95.35L746.51,95.35L746.51,93.49L744.65,93.49L744.65,91.62L746.51,91.62ZM750.86,89.73L752.72,89.73L752.72,91.59L754.59,91.59L754.59,93.46L752.72,93.46L752.72,95.33L750.86,95.33L750.86,93.46L748.99,93.46L748.99,91.59L750.86,91.59ZM755.01,88.76L756.88,88.76L756.88,90.62L758.75,90.62L758.75,92.49L756.88,92.49L756.88,94.36L755.01,94.36L755.01,92.49L753.15,92.49L753.15,90.62L755.01,90.62ZM759.00,87.74L760.87,87.74L760.87,89.61L762.74,89.61L762.74,91.47L760.87,91.47L760.87,93.34L759.00,93.34L759.00,91.47L757.14,91.47L757.14,89.61L759.00,89.61ZM762.84,85.84L764.70,85.84L764.70,87.70L766.57,87.70L766.57,89.57L764.70,89.57L764.70,91.44L762.84,91.44L762.84,89.57L760.97,89.57L760.97,87.70L762.84,87.70ZM766.52,84.01L768.39,84.01L768.39,85.88L770.26,85.88L770.26,87.74L768.39,87.74L768.39,89.61L766.52,89.61L766.52,87.74L764.66,87.74L764.66,85.88L766.52,85.88ZM770.08,81.28L771.94,81.28L771.94,83.14L773.81,83.14L773.81,85.01L771.94,85.01L771.94,86.88L770.08,86.88L770.08,85.01L768.21,85.01L768.21,83.14L770.08,83.14ZM773.51,78.64L775.37,78.64L775.37,80.50L777.24,80.50L777.24,82.37L775.37,82.37L775.37,84.24L773.51,84.24L773.51,82.37L771.64,82.37L771.64,80.50L773.51,80.50ZM776.82,76.84L778.69,76.84L778.69,78.71L780.55,78.71L780.55,80.58L778.69,80.58L778.69,82.44L776.82,82.44L776.82,80.58L774.95,80.58L774.95,78.71L776.82,78.71ZM780.02,75.11L781.89,75.11L781.89,76.97L783.76,76.97L783.76,78.84L781.89,78.84L781.89,80.71L780.02,80.71L780.02,78.84L778.16,78.84L778.16,76.97L780.02,76.97ZM783.13,73.43L784.99,73.43L784.99,75.30L786.86,75.30L786.86,77.16L784.99,77.16L784.99,79.03L783.13,79.03L783.13,77.16L781.26,77.16L781.26,75.30L783.13,75.30ZM786.13,71.67L788.00,71.67L788.00,73.54L789.87,73.54L789.87,75.41L788.00,75.41L788.00,77.27L786.13,77.27L786.13,75.41L784.27,75.41L784.27,73.54L786.13,73.54ZM789.05,69.66L790.92,69.66L790.92,71.53L792.78,71.53L792.78,73.40L790.92,73.40L790.92,75.26L789.05,75.26L789.05,73.40L787.18,73.40L787.18,71.53L789.05,71.53ZM791.88,67.71L793.75,67.71L793.75,69.58L795.62,69.58L795.62,71.44L793.75,71.44L793.75,73.31L791.88,73.31L791.88,71.44L790.02,71.44L790.02,69.58L791.88,69.58ZM794.63,65.81L796.50,65.81L796.50,67.68L798.37,67.68L798.37,69.55L796.50,69.55L796.50,71.41L794.63,71.41L794.63,69.55L792.77,69.55L792.77,67.68L794.63,67.68ZM797.31,63.97L799.18,63.97L799.18,65.84L801.05,65.84L801.05,67.70L799.18,67.70L799.18,69.57L797.31,69.57L797.31,67.70L795.45,67.70L795.45,65.84L797.31,65.84ZM799.92,61.48L801.78,61.48L801.78,63.35L803.65,63.35L803.65,65.22L801.78,65.22L801.78,67.08L799.92,67.08L799.92,65.22L798.05,65.22L798.05,63.35L799.92,63.35ZM802.46,58.61L804.32,58.61L804.32,60.47L806.19,60.47L806.19,62.34L804.32,62.34L804.32,64.21L802.46,64.21L802.46,62.34L800.59,62.34L800.59,60.47L802.46,60.47ZM804.93,55.85L806.80,55.85L806.80,57.72L808.66,57.72L808.66,59.58L806.80,59.58L806.80,61.45L804.93,61.45L804.93,59.58L803.06,59.58L803.06,57.72L804.93,57.72ZM807.34,53.79L809.21,53.79L809.21,55.66L811.08,55.66L811.08,57.53L809.21,57.53L809.21,59.39L807.34,59.39L807.34,57.53L805.48,57.53L805.48,55.66L807.34,55.66ZM809.70,51.79L811.56,51.79L811.56,53.65L813.43,53.65L813.43,55.52L811.56,55.52L811.56,57.39L809.70,57.39L809.70,55.52L807.83,55.52L807.83,53.65L809.70,53.65ZM812.00,49.83L813.86,49.83L813.86,51.69L815.73,51.69L815.73,53.56L813.86,53.56L813.86,55.43L812.00,55.43L812.00,53.56L810.13,53.56L810.13,51.69L812.00,51.69ZM814.24,47.91L816.11,47.91L816.11,49.78L817.98,49.78L817.98,51.65L816.11,51.65L816.11,53.51L814.24,53.51L814.24,51.65L812.38,51.65L812.38,49.78L814.24,49.78ZM816.44,46.04L818.31,46.04L818.31,47.91L820.17,47.91L820.17,49.77L818.31,49.77L818.31,51.64L816.44,51.64L816.44,49.77L814.57,49.77L814.57,47.91L816.44,47.91ZM818.59,44.21L820.45,44.21L820.45,46.08L822.32,46.08L822.32,47.94L820.45,47.94L820.45,49.81L818.59,49.81L818.59,47.94L816.72,47.94L816.72,46.08L818.59,46.08ZM820.69,42.40L822.56,42.40L822.56,44.26L824.42,44.26L824.42,46.13L822.56,46.13L822.56,48.00L820.69,48.00L820.69,46.13L818.82,46.13L818.82,44.26L820.69,44.26ZM822.75,40.45L824.61,40.45L824.61,42.31L826.48,42.31L826.48,44.18L824.61,44.18L824.61,46.05L822.75,46.05L822.75,44.18L820.88,44.18L820.88,42.31L822.75,42.31ZM824.76,38.53L826.63,38.53L826.63,40.40L828.49,40.40L828.49,42.27L826.63,42.27L826.63,44.13L824.76,44.13L824.76,42.27L822.89,42.27L822.89,40.40L824.76,40.40ZM826.73,36.66L828.60,36.66L828.60,38.53L830.47,38.53L830.47,40.39L828.60,40.39L828.60,42.26L826.73,42.26L826.73,40.39L824.87,40.39L824.87,38.53L826.73,38.53ZM828.67,34.82L830.54,34.82L830.54,36.69L832.40,36.69L832.40,38.56L830.54,38.56L830.54,40.42L828.67,40.42L828.67,38.56L826.80,38.56L826.80,36.69L828.67,36.69ZM830.57,33.02L832.43,33.02L832.43,34.89L834.30,34.89L834.30,36.76L832.43,36.76L832.43,38.62L830.57,38.62L830.57,36.76L828.70,36.76L828.70,34.89L830.57,34.89ZM832.43,31.26L834.30,31.26L834.30,33.12L836.16,33.12L836.16,34.99L834.30,34.99L834.30,36.86L832.43,36.86L832.43,34.99L830.56,34.99L830.56,33.12L832.43,33.12ZM834.26,29.52L836.12,29.52L836.12,31.39L837.99,31.39L837.99,33.26L836.12,33.26L836.12,35.12L834.26,35.12L834.26,33.26L832.39,33.26L832.39,31.39L834.26,31.39ZM836.05,27.82L837.91,27.82L837.91,29.69L839.78,29.69L839.78,31.56L837.91,31.56L837.91,33.42L836.05,33.42L836.05,31.56L834.18,31.56L834.18,29.69L836.05,29.69ZM837.81,26.15L839.68,26.15L839.68,28.02L841.54,28.02L841.54,29.89L839.68,29.89L839.68,31.75L837.81,31.75L837.81,29.89L835.94,29.89L835.94,28.02L837.81,28.02ZM839.54,24.51L841.41,24.51L841.41,26.38L843.27,26.38L843.27,28.24L841.41,28.24L841.41,30.11L839.54,30.11L839.54,28.24L837.67,28.24L837.67,26.38L839.54,26.38Z" fill="#ff00ff" stroke="#ff00ff" stroke-width="1.0" stroke-linejoin="miter"/>
<path d="M445.40,133.26L513.13,87.16L552.75,117.14L580.86,100.54L602.67,102.63L620.48,93.93L635.55,89.42L648.60,100.86L660.10,94.25L670.40,95.06L679.71,94.25L688.22,95.06L696.04,96.67L703.28,95.86L710.02,95.06L716.33,97.27L722.25,98.76L727.84,99.88L733.12,100.95L738.13,101.84L742.90,102.42L747.45,102.97L751.79,103.20L755.95,101.12L759.94,99.12L763.77,99.18L767.46,98.76L771.01,96.94L774.44,95.27L777.75,93.80L780.96,92.38L784.06,91.01L787.07,89.59L789.98,88.01L792.82,86.48L795.57,84.99L798.25,83.54L800.85,81.91L803.39,80.18L805.86,78.50L808.28,76.85L810.63,75.25L812.93,73.68L815.18,71.75L817.37,69.72L819.52,67.73L821.62,65.79L823.68,63.89L825.69,62.03L827.67,60.20L829.60,58.38L831.50,56.43L833.36,54.53L835.19,52.66L836.98,50.82L838.74,49.02L840.47,47.25" fill="none" stroke="#800080" stroke-width="1.25" stroke-linejoin="round"/>
<path d="M444.00,130.46L445.40,131.86L446.80,130.46L448.20,131.86L446.80,133.26L448.20,134.66L446.80,136.06L445.40,134.66L444.00,136.06L442.60,134.66L444.00,133.26L442.60,131.86ZM511.73,84.36L513.13,85.76L514.53,84.36L515.93,85.76L514.53,87.16L515.93,88.56L514.53,89.96L513.13,88.56L511.73,89.96L510.33,88.56L511.73,87.16L510.33,85.76ZM551.35,114.34L552.75,115.74L554.15,114.34L555.55,115.74L554.15,117.14L555.55,118.54L554.15,119.94L552.75,118.54L551.35,119.94L549.95,118.54L551.35,117.14L549.95,115.74ZM579.46,97.74L580.86,99.14L582.26,97.74L583.66,99.14L582.26,100.54L583.66,101.94L582.26,103.34L580.86,101.94L579.46,103.34L578.06,101.94L579.46,100.54L578.06,99.14ZM601.27,99.83L602.67,101.23L604.07,99.83L605.47,101.23L604.07,102.63L605.47,104.03L604.07,105.43L602.67,104.03L601.27,105.43L599.87,104.03L601.27,102.63L599.87,101.23ZM619.08,91.13L620.48,92.53L621.88,91.13L623.28,92.53L621.88,93.93L623.28,95.33L621.88,96.73L620.48,95.33L619.08,96.73L617.68,95.33L619.08,93.93L617.68,92.53ZM634.15,86.62L635.55,88.02L636.95,86.62L638.35,88.02L636.95,89.42L638.35,90.82L636.95,92.22L635.55,90.82L634.15,92.22L632.75,90.82L634.15,89.42L632.75,88.02ZM647.20,98.06L648.60,99.46L650.00,98.06L651.40,99.46L650.00,100.86L651.40,102.26L650.00,103.66L648.60,102.26L647.20,103.66L645.80,102.26L647.20,100.86L645.80,99.46ZM658.70,91.45L660.10,92.85L661.50,91.45L662.90,92.85L661.50,94.25L662.90,95.65L661.50,97.05L660.10,95.65L658.70,97.05L657.30,95.65L658.70,94.25L657.30,92.85ZM669.00,92.26L670.40,93.66L671.80,92.26L673.20,93.66L671.80,95.06L673.20,96.46L671.80,97.86L670.40,96.46L669.00,97.86L667.60,96.46L669.00,95.06L667.60,93.66ZM678.31,91.45L679.71,92.85L681.11,91.45L682.51,92.85L681.11,94.25L682.51,95.65L681.11,97.05L679.71,95.65L678.31,97.05L676.91,95.65L678.31,94.25L676.91,92.85ZM686.82,92.26L688.22,93.66L689.62,92.26L691.02,93.66L689.62,95.06L691.02,96.46L689.62,97.86L688.22,96.46L686.82,97.86L685.42,96.46L686.82,95.06L685.42,93.66ZM694.64,93.87L696.04,95.27L697.44,93.87L698.84,95.27L697.44,96.67L698.84,98.07L697.44,99.47L696.04,98.07L694.64,99.47L693.24,98.07L694.64,96.67L693.24,95.27ZM701.88,93.06L703.28,94.46L704.68,93.06L706.08,94.46L704.68,95.86L706.08,97.26L704.68,98.66L703.28,97.26L701.88,98.66L700.48,97.26L701.88,95.86L700.48,94.46ZM708.62,92.26L710.02,93.66L711.42,92.26L712.82,93.66L711.42,95.06L712.82,96.46L711.42,97.86L710.02,96.46L708.62,97.86L707.22,96.46L708.62,95.06L707.22,93.66ZM714.93,94.47L716.33,95.87L717.73,94.47L719.13,95.87L717.73,97.27L719.13,98.67L717.73,100.07L716.33,98.67L714.93,100.07L713.53,98.67L714.93,97.27L713.53,95.87ZM720.85,95.96L722.25,97.36L723.65,95.96L725.05,97.36L723.65,98.76L725.05,100.16L723.65,101.56L722.25,100.16L720.85,101.56L719.45,100.16L720.85,98.76L719.45,97.36ZM726.44,97.08L727.84,98.48L729.24,97.08L730.64,98.48L729.24,99.88L730.64,101.28L729.24,102.68L727.84,101.28L726.44,102.68L725.04,101.28L726.44,99.88L725.04,98.48ZM731.72,98.15L733.12,99.55L734.52,98.15L735.92,99.55L734.52,100.95L735.92,102.35L734.52,103.75L733.12,102.35L731.72,103.75L730.32,102.35L731.72,100.95L730.32,99.55ZM736.73,99.04L738.13,100.44L739.53,99.04L740.93,100.44L739.53,101.84L740.93,103.24L739.53,104.64L738.13,103.24L736.73,104.64L735.33,103.24L736.73,101.84L735.33,100.44ZM741.50,99.62L742.90,101.02L744.30,99.62L745.70,101.02L744.30,102.42L745.70,103.82L744.30,105.22L742.90,103.82L741.50,105.22L740.10,103.82L741.50,102.42L740.10,101.02ZM746.05,100.17L747.45,101.57L748.85,100.17L750.25,101.57L748.85,102.97L750.25,104.37L748.85,105.77L747.45,104.37L746.05,105.77L744.65,104.37L746.05,102.97L744.65,101.57ZM750.39,100.40L751.79,101.80L753.19,100.40L754.59,101.80L753.19,103.20L754.59,104.60L753.19,106.00L751.79,104.60L750.39,106.00L748.99,104.60L750.39,103.20L748.99,101.80ZM754.55,98.32L755.95,99.72L757.35,98.32L758.75,99.72L757.35,101.12L758.75,102.52L757.35,103.92L755.95,102.52L754.55,103.92L753.15,102.52L754.55,101.12L753.15,99.72ZM758.54,96.32L759.94,97.72L761.34,96.32L762.74,97.72L761.34,99.12L762.74,100.52L761.34,101.92L759.94,100.52L758.54,101.92L757.14,100.52L758.54,99.12L757.14,97.72ZM762.37,96.38L763.77,97.78L765.17,96.38L766.57,97.78L765.17,99.18L766.57,100.58L765.17,101.98L763.77,100.58L762.37,101.98L760.97,100.58L762.37,99.18L760.97,97.78ZM766.06,95.96L767.46,97.36L768.86,95.96L770.26,97.36L768.86,98.76L770.26,100.16L768.86,101.56L767.46,100.16L766.06,101.56L764.66,100.16L766.06,98.76L764.66,97.36ZM769.61,94.14L771.01,95.54L772.41,94.14L773.81,95.54L772.41,96.94L773.81,98.34L772.41,99.74L771.01,98.34L769.61,99.74L768.21,98.34L769.61,96.94L768.21,95.54ZM773.04,92.47L774.44,93.87L775.84,92.47L777.24,93.87L775.84,95.27L777.24,96.67L775.84,98.07L774.44,96.67L773.04,98.07L771.64,96.67L773.04,95.27L771.64,93.87ZM776.35,91.00L777.75,92.40L779.15,91.00L780.55,92.40L779.15,93.80L780.55,95.20L779.15,96.60L777.75,95.20L776.35,96.60L774.95,95.20L776.35,93.80L774.95,92.40ZM779.56,89.58L780.96,90.98L782.36,89.58L783.76,90.98L782.36,92.38L783.76,93.78L782.36,95.18L780.96,93.78L779.56,95.18L778.16,93.78L779.56,92.38L778.16,90.98ZM782.66,88.21L784.06,89.61L785.46,88.21L786.86,89.61L785.46,91.01L786.86,92.41L785.46,93.81L784.06,92.41L782.66,93.81L781.26,92.41L782.66,91.01L781.26,89.61ZM785.67,86.79L787.07,88.19L788.47,86.79L789.87,88.19L788.47,89.59L789.87,90.99L788.47,92.39L787.07,90.99L785.67,92.39L784.27,90.99L785.67,89.59L784.27,88.19ZM788.58,85.21L789.98,86.61L791.38,85.21L792.78,86.61L791.38,88.01L792.78,89.41L791.38,90.81L789.98,89.41L788.58,90.81L787.18,89.41L788.58,88.01L787.18,86.61ZM791.42,83.68L792.82,85.08L794.22,83.68L795.62,85.08L794.22,86.48L795.62,87.88L794.22,89.28L792.82,87.88L791.42,89.28L790.02,87.88L791.42,86.48L790.02,85.08ZM794.17,82.19L795.57,83.59L796.97,82.19L798.37,83.59L796.97,84.99L798.37,86.39L796.97,87.79L795.57,86.39L794.17,87.79L792.77,86.39L794.17,84.99L792.77,83.59ZM796.85,80.74L798.25,82.14L799.65,80.74L801.05,82.14L799.65,83.54L801.05,84.94L799.65,86.34L798.25,84.94L796.85,86.34L795.45,84.94L796.85,83.54L795.45,82.14ZM799.45,79.11L800.85,80.51L802.25,79.11L803.65,80.51L802.25,81.91L803.65,83.31L802.25,84.71L800.85,83.31L799.45,84.71L798.05,83.31L799.45,81.91L798.05,80.51ZM801.99,77.38L803.39,78.78L804.79,77.38L806.19,78.78L804.79,80.18L806.19,81.58L804.79,82.98L803.39,81.58L801.99,82.98L800.59,81.58L801.99,80.18L800.59,78.78ZM804.46,75.70L805.86,77.10L807.26,75.70L808.66,77.10L807.26,78.50L808.66,79.90L807.26,81.30L805.86,79.90L804.46,81.30L803.06,79.90L804.46,78.50L803.06,77.10ZM806.88,74.05L808.28,75.45L809.68,74.05L811.08,75.45L809.68,76.85L811.08,78.25L809.68,79.65L808.28,78.25L806.88,79.65L805.48,78.25L806.88,76.85L805.48,75.45ZM809.23,72.45L810.63,73.85L812.03,72.45L813.43,73.85L812.03,75.25L813.43,76.65L812.03,78.05L810.63,76.65L809.23,78.05L807.83,76.65L809.23,75.25L807.83,73.85ZM811.53,70.88L812.93,72.28L814.33,70.88L815.73,72.28L814.33,73.68L815.73,75.08L814.33,76.48L812.93,75.08L811.53,76.48L810.13,75.08L811.53,73.68L810.13,72.28ZM813.78,68.95L815.18,70.35L816.58,68.95L817.98,70.35L816.58,71.75L817.98,73.15L816.58,74.55L815.18,73.15L813.78,74.55L812.38,73.15L813.78,71.75L812.38,70.35ZM815.97,66.92L817.37,68.32L818.77,66.92L820.17,68.32L818.77,69.72L820.17,71.12L818.77,72.52L817.37,71.12L815.97,72.52L814.57,71.12L815.97,69.72L814.57,68.32ZM818.12,64.93L819.52,66.33L820.92,64.93L822.32,66.33L820.92,67.73L822.32,69.13L820.92,70.53L819.52,69.13L818.12,70.53L816.72,69.13L818.12,67.73L816.72,66.33ZM820.22,62.99L821.62,64.39L823.02,62.99L824.42,64.39L823.02,65.79L824.42,67.19L823.02,68.59L821.62,67.19L820.22,68.59L818.82,67.19L820.22,65.79L818.82,64.39ZM822.28,61.09L823.68,62.49L825.08,61.09L826.48,62.49L825.08,63.89L826.48,65.29L825.08,66.69L823.68,65.29L822.28,66.69L820.88,65.29L822.28,63.89L820.88,62.49ZM824.29,59.23L825.69,60.63L827.09,59.23L828.49,60.63L827.09,62.03L828.49,63.43L827.09,64.83L825.69,63.43L824.29,64.83L822.89,63.43L824.29,62.03L822.89,60.63ZM826.27,57.40L827.67,58.80L829.07,57.40L830.47,58.80L829.07,60.20L830.47,61.60L829.07,63.00L827.67,61.60L826.27,63.00L824.87,61.60L826.27,60.20L824.87,58.80ZM828.20,55.58L829.60,56.98L831.00,55.58L832.40,56.98L831.00,58.38L832.40,59.78L831.00,61.18L829.60,59.78L828.20,61.18L826.80,59.78L828.20,58.38L826.80,56.98ZM830.10,53.63L831.50,55.03L832.90,53.63L834.30,55.03L832.90,56.43L834.30,57.83L832.90,59.23L831.50,57.83L830.10,59.23L828.70,57.83L830.10,56.43L828.70,55.03ZM831.96,51.73L833.36,53.13L834.76,51.73L836.16,53.13L834.76,54.53L836.16,55.93L834.76,57.33L833.36,55.93L831.96,57.33L830.56,55.93L831.96,54.53L830.56,53.13ZM833.79,49.86L835.19,51.26L836.59,49.86L837.99,51.26L836.59,52.66L837.99,54.06L836.59,55.46L835.19,54.06L833.79,55.46L832.39,54.06L833.79,52.66L832.39,51.26ZM835.58,48.02L836.98,49.42L838.38,48.02L839.78,49.42L838.38,50.82L839.78,52.22L838.38,53.62L836.98,52.22L835.58,53.62L834.18,52.22L835.58,50.82L834.18,49.42ZM837.34,46.22L838.74,47.62L840.14,46.22L841.54,47.62L840.14,49.02L841.54,50.42L840.14,51.82L838.74,50.42L837.34,51.82L835.94,50.42L837.34,49.02L835.94,47.62ZM839.07,44.45L840.47,45.85L841.87,44.45L843.27,45.85L841.87,47.25L843.27,48.65L841.87,50.05L840.47,48.65L839.07,50.05L837.67,48.65L839.07,47.25L837.67,45.85Z" fill="#800080" stroke="#800080" stroke-width="1.0" stroke-linejoin="miter"/>
<path d="M445.40,109.73L513.13,90.87L552.75,142.61L580.86,148.58L602.67,160.34L620.48,160.51L635.55,159.70L648.60,165.50L660.10,160.02L670.40,158.73L679.71,154.86L688.22,153.09L696.04,151.96L703.28,148.25L710.02,147.13L716.33,145.84L722.25,144.87L727.84,144.28L733.12,143.90L738.13,143.90L742.90,143.90L747.45,143.88L751.79,143.66L755.95,143.45L759.94,143.24L763.77,143.34L767.46,144.12L771.01,144.65L774.44,145.17L777.75,145.66L780.96,146.14L784.06,146.61L787.07,147.35L789.98,148.09L792.82,148.82L795.57,149.52L798.25,150.20L800.85,150.87L803.39,151.59L805.86,152.43L808.28,153.26L810.63,154.06L812.93,154.85L815.18,155.61L817.37,156.36L819.52,157.10L821.62,157.84L823.68,158.64L825.69,159.42L827.67,160.18L829.60,160.93L831.50,161.66L833.36,162.38L835.19,163.09L836.98,163.78L838.74,164.46L840.47,165.13" fill="none" stroke="#ff0000" stroke-width="1.25" stroke-linejoin="round"/>
<path d="M442.60,106.93L448.20,106.93L445.40,112.53ZM510.33,88.07L515.93,88.07L513.13,93.67ZM549.95,139.81L555.55,139.81L552.75,145.41ZM578.06,145.78L583.66,145.78L580.86,151.38ZM599.87,157.54L605.47,157.54L602.67,163.14ZM617.68,157.71L623.28,157.71L620.48,163.31ZM632.75,156.90L638.35,156.90L635.55,162.50ZM645.80,162.70L651.40,162.70L648.60,168.30ZM657.30,157.22L662.90,157.22L660.10,162.82ZM667.60,155.93L673.20,155.93L670.40,161.53ZM676.91,152.06L682.51,152.06L679.71,157.66ZM685.42,150.29L691.02,150.29L688.22,155.89ZM693.24,149.16L698.84,149.16L696.04,154.76ZM700.48,145.45L706.08,145.45L703.28,151.05ZM707.22,144.33L712.82,144.33L710.02,149.93ZM713.53,143.04L719.13,143.04L716.33,148.64ZM719.45,142.07L725.05,142.07L722.25,147.67ZM725.04,141.48L730.64,141.48L727.84,147.08ZM730.32,141.10L735.92,141.10L733.12,146.70ZM735.33,141.10L740.93,141.10L738.13,146.70ZM740.10,141.10L745.70,141.10L742.90,146.70ZM744.65,141.08L750.25,141.08L747.45,146.68ZM748.99,140.86L754.59,140.86L751.79,146.46ZM753.15,140.65L758.75,140.65L755.95,146.25ZM757.14,140.44L762.74,140.44L759.94,146.04ZM760.97,140.54L766.57,140.54L763.77,146.14ZM764.66,141.32L770.26,141.32L767.46,146.92ZM768.21,141.85L773.81,141.85L771.01,147.45ZM771.64,142.37L777.24,142.37L774.44,147.97ZM774.95,142.86L780.55,142.86L777.75,148.46ZM778.16,143.34L783.76,143.34L780.96,148.94ZM781.26,143.81L786.86,143.81L784.06,149.41ZM784.27,144.55L789.87,144.55L787.07,150.15ZM787.18,145.29L792.78,145.29L789.98,150.89ZM790.02,146.02L795.62,146.02L792.82,151.62ZM792.77,146.72L798.37,146.72L795.57,152.32ZM795.45,147.40L801.05,147.40L798.25,153.00ZM798.05,148.07L803.65,148.07L800.85,153.67ZM800.59,148.79L806.19,148.79L803.39,154.39ZM803.06,149.63L808.66,149.63L805.86,155.23ZM805.48,150.46L811.08,150.46L808.28,156.06ZM807.83,151.26L813.43,151.26L810.63,156.86ZM810.13,152.05L815.73,152.05L812.93,157.65ZM812.38,152.81L817.98,152.81L815.18,158.41ZM814.57,153.56L820.17,153.56L817.37,159.16ZM816.72,154.30L822.32,154.30L819.52,159.90ZM818.82,155.04L824.42,155.04L821.62,160.64ZM820.88,155.84L826.48,155.84L823.68,161.44ZM822.89,156.62L828.49,156.62L825.69,162.22ZM824.87,157.38L830.47,157.38L827.67,162.98ZM826.80,158.13L832.40,158.13L829.60,163.73ZM828.70,158.86L834.30,158.86L831.50,164.46ZM830.56,159.58L836.16,159.58L833.36,165.18ZM832.39,160.29L837.99,160.29L835.19,165.89ZM834.18,160.98L839.78,160.98L836.98,166.58ZM835.94,161.66L841.54,161.66L838.74,167.26ZM837.67,162.33L843.27,162.33L840.47,167.93Z" fill="#ff0000" stroke="#ff0000" stroke-width="1.0" stroke-linejoin="miter"/>
<path d="M445.40,107.63L513.13,46.05L552.75,69.59L580.86,56.69L602.67,75.55L620.48,71.68L635.55,81.03L648.60,100.38L660.10,102.31L670.40,109.24L679.71,111.34L688.22,116.01L696.04,118.75L703.28,119.72L710.02,122.30L716.33,124.99L722.25,126.02L727.84,127.00L733.12,128.10L738.13,129.49L742.90,130.81L747.45,132.04L751.79,132.84L755.95,133.61L759.94,134.35L763.77,135.18L767.46,136.33L771.01,137.15L774.44,137.73L777.75,138.28L780.96,138.82L784.06,139.35L787.07,140.36L789.98,141.39L792.82,142.39L795.57,143.36L798.25,144.30L800.85,145.22L803.39,146.15L805.86,147.12L808.28,148.07L810.63,149.00L812.93,149.91L815.18,150.79L817.37,151.66L819.52,152.51L821.62,153.32L823.68,154.10L825.69,154.85L827.67,155.59L829.60,156.32L831.50,157.03L833.36,157.73L835.19,158.42L836.98,159.09L838.74,159.75L840.47,160.40" fill="none" stroke="#ffa500" stroke-width="1.25" stroke-linejoin="round"/>
<path d="M442.60,110.43L448.20,110.43L445.40,104.83ZM510.33,48.85L515.93,48.85L513.13,43.25ZM549.95,72.39L555.55,72.39L552.75,66.79ZM578.06,59.49L583.66,59.49L580.86,53.89ZM599.87,78.35L605.47,78.35L602.67,72.75ZM617.68,74.48L623.28,74.48L620.48,68.88ZM632.75,83.83L638.35,83.83L635.55,78.23ZM645.80,103.18L651.40,103.18L648.60,97.58ZM657.30,105.11L662.90,105.11L660.10,99.51ZM667.60,112.04L673.20,112.04L670.40,106.44ZM676.91,114.14L682.51,114.14L679.71,108.54ZM685.42,118.81L691.02,118.81L688.22,113.21ZM693.24,121.55L698.84,121.55L696.04,115.95ZM700.48,122.52L706.08,122.52L703.28,116.92ZM707.22,125.10L712.82,125.10L710.02,119.50ZM713.53,127.79L719.13,127.79L716.33,122.19ZM719.45,128.82L725.05,128.82L722.25,123.22ZM725.04,129.80L730.64,129.80L727.84,124.20ZM730.32,130.90L735.92,130.90L733.12,125.30ZM735.33,132.29L740.93,132.29L738.13,126.69ZM740.10,133.61L745.70,133.61L742.90,128.01ZM744.65,134.84L750.25,134.84L747.45,129.24ZM748.99,135.64L754.59,135.64L751.79,130.04ZM753.15,136.41L758.75,136.41L755.95,130.81ZM757.14,137.15L762.74,137.15L759.94,131.55ZM760.97,137.98L766.57,137.98L763.77,132.38ZM764.66,139.13L770.26,139.13L767.46,133.53ZM768.21,139.95L773.81,139.95L771.01,134.35ZM771.64,140.53L777.24,140.53L774.44,134.93ZM774.95,141.08L780.55,141.08L777.75,135.48ZM778.16,141.62L783.76,141.62L780.96,136.02ZM781.26,142.15L786.86,142.15L784.06,136.55ZM784.27,143.16L789.87,143.16L787.07,137.56ZM787.18,144.19L792.78,144.19L789.98,138.59ZM790.02,145.19L795.62,145.19L792.82,139.59ZM792.77,146.16L798.37,146.16L795.57,140.56ZM795.45,147.10L801.05,147.10L798.25,141.50ZM798.05,148.02L803.65,148.02L800.85,142.42ZM800.59,148.95L806.19,148.95L803.39,143.35ZM803.06,149.92L808.66,149.92L805.86,144.32ZM805.48,150.87L811.08,150.87L808.28,145.27ZM807.83,151.80L813.43,151.80L810.63,146.20ZM810.13,152.71L815.73,152.71L812.93,147.11ZM812.38,153.59L817.98,153.59L815.18,147.99ZM814.57,154.46L820.17,154.46L817.37,148.86ZM816.72,155.31L822.32,155.31L819.52,149.71ZM818.82,156.12L824.42,156.12L821.62,150.52ZM820.88,156.90L826.48,156.90L823.68,151.30ZM822.89,157.65L828.49,157.65L825.69,152.05ZM824.87,158.39L830.47,158.39L827.67,152.79ZM826.80,159.12L832.40,159.12L829.60,153.52ZM828.70,159.83L834.30,159.83L831.50,154.23ZM830.56,160.53L836.16,160.53L833.36,154.93ZM832.39,161.22L837.99,161.22L835.19,155.62ZM834.18,161.89L839.78,161.89L836.98,156.29ZM835.94,162.55L841.54,162.55L838.74,156.95ZM837.67,163.20L843.27,163.20L840.47,157.60Z" fill="#ffa500" stroke="#ffa500" stroke-width="1.0" stroke-linejoin="miter"/>
</g>
<clipPath id="c00"><rect x="44.4" y="181.5" width="396.0" height="162.0"/></clipPath>
<g clip-path="url(#c00)">
<path d="M49.40,241.55L54.17,242.45L58.94,243.30L63.70,244.12L68.47,244.89L73.24,245.61L78.01,246.29L82.77,246.93L87.54,247.55L92.31,248.14L97.08,248.70L101.84,249.26L106.61,249.79L111.38,250.29L116.15,250.77L120.91,251.22L125.68,251.67L130.45,252.09L135.22,252.49L139.98,252.88L144.75,253.37L149.52,253.85L154.29,254.30L159.05,254.72L163.82,255.11L168.59,255.48L173.36,255.82L178.12,256.14L182.89,256.43L187.66,256.70L192.43,256.93L197.20,257.14L201.96,257.34L206.73,257.53L211.50,257.71L216.27,257.91L221.03,258.11L225.80,258.28L230.57,258.44L235.34,258.59L240.10,258.73L244.87,258.85L249.64,258.96L254.41,259.06L259.17,259.15L263.94,259.24L268.71,259.32L273.48,259.39L278.24,259.46L283.01,259.52L287.78,259.58L292.55,259.63L297.31,259.68L302.08,259.73L306.85,259.77L311.62,259.81L316.39,259.85L321.15,259.88L325.92,259.91L330.69,259.94L335.46,259.97L340.22,259.99L344.99,260.02L349.76,260.04L354.53,260.06L359.29,260.08L364.06,260.09L368.83,260.11L373.60,260.12L378.36,260.14L383.13,260.15L387.90,260.16L392.67,260.17L397.43,260.18L402.20,260.19L406.97,260.20L411.74,260.21L416.50,260.21L421.27,260.22L426.04,260.23L430.81,260.23L435.57,260.24L440.34,260.24L440.34,260.36L435.57,260.36L430.81,260.37L426.04,260.37L421.27,260.38L416.50,260.39L411.74,260.39L406.97,260.40L402.20,260.41L397.43,260.42L392.67,260.43L387.90,260.44L383.13,260.45L378.36,260.46L373.60,260.48L368.83,260.49L364.06,260.51L359.29,260.52L354.53,260.54L349.76,260.56L344.99,260.58L340.22,260.61L335.46,260.63L330.69,260.66L325.92,260.69L321.15,260.72L316.39,260.75L311.62,260.79L306.85,260.83L302.08,260.87L297.31,260.92L292.55,260.97L287.78,261.02L283.01,261.08L278.24,261.14L273.48,261.21L268.71,261.28L263.94,261.36L259.17,261.45L254.41,261.54L249.64,261.64L244.87,261.75L240.10,261.87L235.34,262.01L230.57,262.16L225.80,262.32L221.03,262.49L216.27,262.69L211.50,262.89L206.73,263.07L201.96,263.26L197.20,263.46L192.43,263.67L187.66,263.90L182.89,264.17L178.12,264.46L173.36,264.78L168.59,265.12L163.82,265.49L159.05,265.88L154.29,266.30L149.52,266.75L144.75,267.23L139.98,267.72L135.22,268.11L130.45,268.51L125.68,268.93L120.91,269.38L116.15,269.83L111.38,270.31L106.61,270.81L101.84,271.34L97.08,271.90L92.31,272.46L87.54,273.05L82.77,273.67L78.01,274.31L73.24,274.99L68.47,275.71L63.70,276.48L58.94,277.30L54.17,278.15L49.40,279.05Z" fill="#ffcc9f" stroke="#f6b27e" stroke-width="0.6"/>
<line x1="44.4" x2="440.4" y1="260.30" y2="260.30" stroke="#000" stroke-width="1.15"/>
<line x1="44.4" x2="440.4" y1="245.12" y2="245.12" stroke="#000" stroke-width="1.0" stroke-dasharray="3.1 1.4"/>
<line x1="44.4" x2="440.4" y1="275.48" y2="275.48" stroke="#000" stroke-width="1.0" stroke-dasharray="3.1 1.4"/>
<line x1="44.4" x2="440.4" y1="252.71" y2="252.71" stroke="#000" stroke-width="1.1" stroke-dasharray="0.85 1.4"/>
<line x1="44.4" x2="440.4" y1="267.89" y2="267.89" stroke="#000" stroke-width="1.1" stroke-dasharray="0.85 1.4"/>
<path d="M49.40,244.36L117.13,214.76L156.75,259.24L184.86,264.85L206.67,276.54L224.48,283.53L239.55,272.29L252.60,273.81L264.10,267.13L274.40,267.59L283.71,264.55L292.22,263.64L300.04,258.48L307.28,255.14L314.02,251.50L320.33,249.07L326.25,248.16L331.84,247.70L337.12,243.60L342.13,242.99L346.90,242.54L351.45,239.66L355.79,239.66L359.95,238.59L363.94,239.20L367.77,239.66L371.46,240.72L375.01,241.48L378.44,242.99L381.75,243.96L384.96,244.89L388.06,245.72L391.07,246.41L393.98,247.09L396.82,247.74L399.57,248.24L402.25,248.48L404.85,248.72L407.39,248.95L409.86,249.17L412.28,249.27L414.63,249.33L416.93,249.39L419.18,249.45L421.37,249.50L423.52,249.56L425.62,249.61L427.68,249.67L429.69,249.72L431.67,249.77L433.60,249.82L435.50,249.87L437.36,249.91L439.19,249.96L440.98,250.01L442.74,250.05L444.47,250.10" fill="none" stroke="#ff0000" stroke-width="1.25" stroke-linejoin="round"/>
<path d="M46.60,241.56L52.20,241.56L49.40,247.16ZM114.33,211.96L119.93,211.96L117.13,217.56ZM153.95,256.44L159.55,256.44L156.75,262.04ZM182.06,262.05L187.66,262.05L184.86,267.65ZM203.87,273.74L209.47,273.74L206.67,279.34ZM221.68,280.73L227.28,280.73L224.48,286.33ZM236.75,269.49L242.35,269.49L239.55,275.09ZM249.80,271.01L255.40,271.01L252.60,276.61ZM261.30,264.33L266.90,264.33L264.10,269.93ZM271.60,264.79L277.20,264.79L274.40,270.39ZM280.91,261.75L286.51,261.75L283.71,267.35ZM289.42,260.84L295.02,260.84L292.22,266.44ZM297.24,255.68L302.84,255.68L300.04,261.28ZM304.48,252.34L310.08,252.34L307.28,257.94ZM311.22,248.70L316.82,248.70L314.02,254.30ZM317.53,246.27L323.13,246.27L320.33,251.87ZM323.45,245.36L329.05,245.36L326.25,250.96ZM329.04,244.90L334.64,244.90L331.84,250.50ZM334.32,240.80L339.92,240.80L337.12,246.40ZM339.33,240.19L344.93,240.19L342.13,245.79ZM344.10,239.74L349.70,239.74L346.90,245.34ZM348.65,236.86L354.25,236.86L351.45,242.46ZM352.99,236.86L358.59,236.86L355.79,242.46ZM357.15,235.79L362.75,235.79L359.95,241.39ZM361.14,236.40L366.74,236.40L363.94,242.00ZM364.97,236.86L370.57,236.86L367.77,242.46ZM368.66,237.92L374.26,237.92L371.46,243.52ZM372.21,238.68L377.81,238.68L375.01,244.28ZM375.64,240.19L381.24,240.19L378.44,245.79ZM378.95,241.16L384.55,241.16L381.75,246.76ZM382.16,242.09L387.76,242.09L384.96,247.69ZM385.26,242.92L390.86,242.92L388.06,248.52ZM388.27,243.61L393.87,243.61L391.07,249.21ZM391.18,244.29L396.78,244.29L393.98,249.89ZM394.02,244.94L399.62,244.94L396.82,250.54ZM396.77,245.44L402.37,245.44L399.57,251.04ZM399.45,245.68L405.05,245.68L402.25,251.28ZM402.05,245.92L407.65,245.92L404.85,251.52ZM404.59,246.15L410.19,246.15L407.39,251.75ZM407.06,246.37L412.66,246.37L409.86,251.97ZM409.48,246.47L415.08,246.47L412.28,252.07ZM411.83,246.53L417.43,246.53L414.63,252.13ZM414.13,246.59L419.73,246.59L416.93,252.19ZM416.38,246.65L421.98,246.65L419.18,252.25ZM418.57,246.70L424.17,246.70L421.37,252.30ZM420.72,246.76L426.32,246.76L423.52,252.36ZM422.82,246.81L428.42,246.81L425.62,252.41ZM424.88,246.87L430.48,246.87L427.68,252.47ZM426.89,246.92L432.49,246.92L429.69,252.52ZM428.87,246.97L434.47,246.97L431.67,252.57ZM430.80,247.02L436.40,247.02L433.60,252.62ZM432.70,247.07L438.30,247.07L435.50,252.67ZM434.56,247.11L440.16,247.11L437.36,252.71ZM436.39,247.16L441.99,247.16L439.19,252.76ZM438.18,247.21L443.78,247.21L440.98,252.81ZM439.94,247.25L445.54,247.25L442.74,252.85ZM441.67,247.30L447.27,247.30L444.47,252.90Z" fill="#ff0000" stroke="#ff0000" stroke-width="1.0" stroke-linejoin="miter"/>
<path d="M49.40,280.64L117.13,203.98L156.75,247.09L184.86,250.74L206.67,264.25L224.48,272.14L239.55,260.45L252.60,261.67L264.10,257.26L274.40,257.26L283.71,255.59L292.22,254.84L300.04,251.34L307.28,248.76L314.02,246.33L320.33,244.66L326.25,242.84L331.84,242.08L337.12,240.57L342.13,239.81L346.90,238.61L351.45,237.46L355.79,236.37L359.95,236.27L363.94,236.64L367.77,236.99L371.46,237.43L375.01,238.06L378.44,238.53L381.75,238.03L384.96,237.54L388.06,237.08L391.07,236.62L393.98,235.75L396.82,234.90L399.57,234.07L402.25,233.26L404.85,232.48L407.39,231.71L409.86,230.97L412.28,230.24L414.63,229.53L416.93,228.84L419.18,228.27L421.37,227.73L423.52,227.21L425.62,226.70L427.68,226.20L429.69,225.71L431.67,225.35L433.60,225.06L435.50,224.77L437.36,224.49L439.19,224.22L440.98,223.95L442.74,223.68L444.47,223.43" fill="none" stroke="#00ffff" stroke-width="1.25" stroke-linejoin="round"/>
<circle cx="49.40" cy="280.64" r="1.6" fill="#00ffff"/><circle cx="117.13" cy="203.98" r="1.6" fill="#00ffff"/><circle cx="156.75" cy="247.09" r="1.6" fill="#00ffff"/><circle cx="184.86" cy="250.74" r="1.6" fill="#00ffff"/><circle cx="206.67" cy="264.25" r="1.6" fill="#00ffff"/><circle cx="224.48" cy="272.14" r="1.6" fill="#00ffff"/><circle cx="239.55" cy="260.45" r="1.6" fill="#00ffff"/><circle cx="252.60" cy="261.67" r="1.6" fill="#00ffff"/><circle cx="264.10" cy="257.26" r="1.6" fill="#00ffff"/><circle cx="274.40" cy="257.26" r="1.6" fill="#00ffff"/><circle cx="283.71" cy="255.59" r="1.6" fill="#00ffff"/><circle cx="292.22" cy="254.84" r="1.6" fill="#00ffff"/><circle cx="300.04" cy="251.34" r="1.6" fill="#00ffff"/><circle cx="307.28" cy="248.76" r="1.6" fill="#00ffff"/><circle cx="314.02" cy="246.33" r="1.6" fill="#00ffff"/><circle cx="320.33" cy="244.66" r="1.6" fill="#00ffff"/><circle cx="326.25" cy="242.84" r="1.6" fill="#00ffff"/><circle cx="331.84" cy="242.08" r="1.6" fill="#00ffff"/><circle cx="337.12" cy="240.57" r="1.6" fill="#00ffff"/><circle cx="342.13" cy="239.81" r="1.6" fill="#00ffff"/><circle cx="346.90" cy="238.61" r="1.6" fill="#00ffff"/><circle cx="351.45" cy="237.46" r="1.6" fill="#00ffff"/><circle cx="355.79" cy="236.37" r="1.6" fill="#00ffff"/><circle cx="359.95" cy="236.27" r="1.6" fill="#00ffff"/><circle cx="363.94" cy="236.64" r="1.6" fill="#00ffff"/><circle cx="367.77" cy="236.99" r="1.6" fill="#00ffff"/><circle cx="371.46" cy="237.43" r="1.6" fill="#00ffff"/><circle cx="375.01" cy="238.06" r="1.6" fill="#00ffff"/><circle cx="378.44" cy="238.53" r="1.6" fill="#00ffff"/><circle cx="381.75" cy="238.03" r="1.6" fill="#00ffff"/><circle cx="384.96" cy="237.54" r="1.6" fill="#00ffff"/><circle cx="388.06" cy="237.08" r="1.6" fill="#00ffff"/><circle cx="391.07" cy="236.62" r="1.6" fill="#00ffff"/><circle cx="393.98" cy="235.75" r="1.6" fill="#00ffff"/><circle cx="396.82" cy="234.90" r="1.6" fill="#00ffff"/><circle cx="399.57" cy="234.07" r="1.6" fill="#00ffff"/><circle cx="402.25" cy="233.26" r="1.6" fill="#00ffff"/><circle cx="404.85" cy="232.48" r="1.6" fill="#00ffff"/><circle cx="407.39" cy="231.71" r="1.6" fill="#00ffff"/><circle cx="409.86" cy="230.97" r="1.6" fill="#00ffff"/><circle cx="412.28" cy="230.24" r="1.6" fill="#00ffff"/><circle cx="414.63" cy="229.53" r="1.6" fill="#00ffff"/><circle cx="416.93" cy="228.84" r="1.6" fill="#00ffff"/><circle cx="419.18" cy="228.27" r="1.6" fill="#00ffff"/><circle cx="421.37" cy="227.73" r="1.6" fill="#00ffff"/><circle cx="423.52" cy="227.21" r="1.6" fill="#00ffff"/><circle cx="425.62" cy="226.70" r="1.6" fill="#00ffff"/><circle cx="427.68" cy="226.20" r="1.6" fill="#00ffff"/><circle cx="429.69" cy="225.71" r="1.6" fill="#00ffff"/><circle cx="431.67" cy="225.35" r="1.6" fill="#00ffff"/><circle cx="433.60" cy="225.06" r="1.6" fill="#00ffff"/><circle cx="435.50" cy="224.77" r="1.6" fill="#00ffff"/><circle cx="437.36" cy="224.49" r="1.6" fill="#00ffff"/><circle cx="439.19" cy="224.22" r="1.6" fill="#00ffff"/><circle cx="440.98" cy="223.95" r="1.6" fill="#00ffff"/><circle cx="442.74" cy="223.68" r="1.6" fill="#00ffff"/><circle cx="444.47" cy="223.43" r="1.6" fill="#00ffff"/>
<path d="M49.40,280.64L117.13,201.25L156.75,244.97L184.86,248.92L206.67,261.06L224.48,268.50L239.55,257.11L252.60,261.67L264.10,256.51L274.40,258.02L283.71,257.26L292.22,257.26L300.04,255.59L307.28,254.84L314.02,254.84L320.33,254.23L326.25,253.92L331.84,254.77L337.12,255.58L342.13,256.34L346.90,257.07L351.45,257.76L355.79,258.42L359.95,259.81L363.94,261.52L367.77,262.99L371.46,264.10L375.01,265.17L378.44,266.20L381.75,267.50L384.96,268.90L388.06,270.25L391.07,271.56L393.98,272.61L396.82,273.64L399.57,274.63L402.25,275.60L404.85,276.36L407.39,276.71L409.86,277.06L412.28,277.40L414.63,277.73L416.93,278.05L419.18,278.32L421.37,278.59L423.52,278.85L425.62,279.11L427.68,279.36L429.69,279.60L431.67,279.84L433.60,280.08L435.50,280.31L437.36,280.53L439.19,280.76L440.98,280.97L442.74,281.19L444.47,281.40" fill="none" stroke="#00ff00" stroke-width="1.25" stroke-linejoin="round"/>
<path d="M46.60,277.84L52.20,283.44M46.60,283.44L52.20,277.84M114.33,198.45L119.93,204.05M114.33,204.05L119.93,198.45M153.95,242.17L159.55,247.77M153.95,247.77L159.55,242.17M182.06,246.12L187.66,251.72M182.06,251.72L187.66,246.12M203.87,258.26L209.47,263.86M203.87,263.86L209.47,258.26M221.68,265.70L227.28,271.30M221.68,271.30L227.28,265.70M236.75,254.31L242.35,259.91M236.75,259.91L242.35,254.31M249.80,258.87L255.40,264.47M249.80,264.47L255.40,258.87M261.30,253.71L266.90,259.31M261.30,259.31L266.90,253.71M271.60,255.22L277.20,260.82M271.60,260.82L277.20,255.22M280.91,254.46L286.51,260.06M280.91,260.06L286.51,254.46M289.42,254.46L295.02,260.06M289.42,260.06L295.02,254.46M297.24,252.79L302.84,258.39M297.24,258.39L302.84,252.79M304.48,252.04L310.08,257.64M304.48,257.64L310.08,252.04M311.22,252.04L316.82,257.64M311.22,257.64L316.82,252.04M317.53,251.43L323.13,257.03M317.53,257.03L323.13,251.43M323.45,251.12L329.05,256.72M323.45,256.72L329.05,251.12M329.04,251.97L334.64,257.57M329.04,257.57L334.64,251.97M334.32,252.78L339.92,258.38M334.32,258.38L339.92,252.78M339.33,253.54L344.93,259.14M339.33,259.14L344.93,253.54M344.10,254.27L349.70,259.87M344.10,259.87L349.70,254.27M348.65,254.96L354.25,260.56M348.65,260.56L354.25,254.96M352.99,255.62L358.59,261.22M352.99,261.22L358.59,255.62M357.15,257.01L362.75,262.61M357.15,262.61L362.75,257.01M361.14,258.72L366.74,264.32M361.14,264.32L366.74,258.72M364.97,260.19L370.57,265.79M364.97,265.79L370.57,260.19M368.66,261.30L374.26,266.90M368.66,266.90L374.26,261.30M372.21,262.37L377.81,267.97M372.21,267.97L377.81,262.37M375.64,263.40L381.24,269.00M375.64,269.00L381.24,263.40M378.95,264.70L384.55,270.30M378.95,270.30L384.55,264.70M382.16,266.10L387.76,271.70M382.16,271.70L387.76,266.10M385.26,267.45L390.86,273.05M385.26,273.05L390.86,267.45M388.27,268.76L393.87,274.36M388.27,274.36L393.87,268.76M391.18,269.81L396.78,275.41M391.18,275.41L396.78,269.81M394.02,270.84L399.62,276.44M394.02,276.44L399.62,270.84M396.77,271.83L402.37,277.43M396.77,277.43L402.37,271.83M399.45,272.80L405.05,278.40M399.45,278.40L405.05,272.80M402.05,273.56L407.65,279.16M402.05,279.16L407.65,273.56M404.59,273.91L410.19,279.51M404.59,279.51L410.19,273.91M407.06,274.26L412.66,279.86M407.06,279.86L412.66,274.26M409.48,274.60L415.08,280.20M409.48,280.20L415.08,274.60M411.83,274.93L417.43,280.53M411.83,280.53L417.43,274.93M414.13,275.25L419.73,280.85M414.13,280.85L419.73,275.25M416.38,275.52L421.98,281.12M416.38,281.12L421.98,275.52M418.57,275.79L424.17,281.39M418.57,281.39L424.17,275.79M420.72,276.05L426.32,281.65M420.72,281.65L426.32,276.05M422.82,276.31L428.42,281.91M422.82,281.91L428.42,276.31M424.88,276.56L430.48,282.16M424.88,282.16L430.48,276.56M426.89,276.80L432.49,282.40M426.89,282.40L432.49,276.80M428.87,277.04L434.47,282.64M428.87,282.64L434.47,277.04M430.80,277.28L436.40,282.88M430.80,282.88L436.40,277.28M432.70,277.51L438.30,283.11M432.70,283.11L438.30,277.51M434.56,277.73L440.16,283.33M434.56,283.33L440.16,277.73M436.39,277.96L441.99,283.56M436.39,283.56L441.99,277.96M438.18,278.17L443.78,283.77M438.18,283.77L443.78,278.17M439.94,278.39L445.54,283.99M439.94,283.99L445.54,278.39M441.67,278.60L447.27,284.20M441.67,284.20L447.27,278.60" fill="none" stroke="#00ff00" stroke-width="1.1"/>
<path d="M49.40,235.86L117.13,116.09L156.75,138.86L184.86,154.04L206.67,172.26L224.48,203.38L239.55,203.38L252.60,217.80L264.10,219.77L274.40,228.73L283.71,231.61L292.22,235.25L300.04,233.74L307.28,233.28L314.02,232.82L320.33,232.07L326.25,230.55L331.84,232.82L337.12,230.09L342.13,230.55L346.90,231.61L351.45,228.88L355.79,229.64L359.95,228.73L363.94,230.55L367.77,232.98L371.46,234.95L375.01,235.25L378.44,236.62L381.75,237.28L384.96,237.92L388.06,238.63L391.07,239.44L393.98,240.23L396.82,240.99L399.57,241.63L402.25,242.04L404.85,242.44L407.39,242.83L409.86,243.22L412.28,243.54L414.63,243.85L416.93,244.15L419.18,244.44L421.37,244.72L423.52,244.91L425.62,245.06L427.68,245.20L429.69,245.34L431.67,245.47L433.60,245.61L435.50,245.74L437.36,245.86L439.19,245.99L440.98,246.11L442.74,246.23L444.47,246.35" fill="none" stroke="#ffa500" stroke-width="1.25" stroke-linejoin="round"/>
<path d="M46.60,238.66L52.20,238.66L49.40,233.06ZM114.33,118.89L119.93,118.89L117.13,113.29ZM153.95,141.66L159.55,141.66L156.75,136.06ZM182.06,156.84L187.66,156.84L184.86,151.24ZM203.87,175.06L209.47,175.06L206.67,169.46ZM221.68,206.18L227.28,206.18L224.48,200.57ZM236.75,206.18L242.35,206.18L239.55,200.57ZM249.80,220.60L255.40,220.60L252.60,215.00ZM261.30,222.57L266.90,222.57L264.10,216.97ZM271.60,231.53L277.20,231.53L274.40,225.93ZM280.91,234.41L286.51,234.41L283.71,228.81ZM289.42,238.05L295.02,238.05L292.22,232.45ZM297.24,236.54L302.84,236.54L300.04,230.94ZM304.48,236.08L310.08,236.08L307.28,230.48ZM311.22,235.62L316.82,235.62L314.02,230.02ZM317.53,234.87L323.13,234.87L320.33,229.27ZM323.45,233.35L329.05,233.35L326.25,227.75ZM329.04,235.62L334.64,235.62L331.84,230.02ZM334.32,232.89L339.92,232.89L337.12,227.29ZM339.33,233.35L344.93,233.35L342.13,227.75ZM344.10,234.41L349.70,234.41L346.90,228.81ZM348.65,231.68L354.25,231.68L351.45,226.08ZM352.99,232.44L358.59,232.44L355.79,226.84ZM357.15,231.53L362.75,231.53L359.95,225.93ZM361.14,233.35L366.74,233.35L363.94,227.75ZM364.97,235.78L370.57,235.78L367.77,230.18ZM368.66,237.75L374.26,237.75L371.46,232.15ZM372.21,238.05L377.81,238.05L375.01,232.45ZM375.64,239.42L381.24,239.42L378.44,233.82ZM378.95,240.08L384.55,240.08L381.75,234.48ZM382.16,240.72L387.76,240.72L384.96,235.12ZM385.26,241.43L390.86,241.43L388.06,235.83ZM388.27,242.24L393.87,242.24L391.07,236.64ZM391.18,243.03L396.78,243.03L393.98,237.43ZM394.02,243.79L399.62,243.79L396.82,238.19ZM396.77,244.43L402.37,244.43L399.57,238.83ZM399.45,244.84L405.05,244.84L402.25,239.24ZM402.05,245.24L407.65,245.24L404.85,239.64ZM404.59,245.63L410.19,245.63L407.39,240.03ZM407.06,246.02L412.66,246.02L409.86,240.42ZM409.48,246.34L415.08,246.34L412.28,240.74ZM411.83,246.65L417.43,246.65L414.63,241.05ZM414.13,246.95L419.73,246.95L416.93,241.35ZM416.38,247.24L421.98,247.24L419.18,241.64ZM418.57,247.52L424.17,247.52L421.37,241.92ZM420.72,247.71L426.32,247.71L423.52,242.11ZM422.82,247.86L428.42,247.86L425.62,242.26ZM424.88,248.00L430.48,248.00L427.68,242.40ZM426.89,248.14L432.49,248.14L429.69,242.54ZM428.87,248.27L434.47,248.27L431.67,242.67ZM430.80,248.41L436.40,248.41L433.60,242.81ZM432.70,248.54L438.30,248.54L435.50,242.94ZM434.56,248.66L440.16,248.66L437.36,243.06ZM436.39,248.79L441.99,248.79L439.19,243.19ZM438.18,248.91L443.78,248.91L440.98,243.31ZM439.94,249.03L445.54,249.03L442.74,243.43ZM441.67,249.15L447.27,249.15L444.47,243.55Z" fill="#ffa500" stroke="#ffa500" stroke-width="1.0" stroke-linejoin="miter"/>
<path d="M49.40,271.08L117.13,110.02L156.75,123.68L184.86,154.04L206.67,175.29L224.48,207.17L239.55,208.84L252.60,223.41L264.10,224.93L274.40,235.25L283.71,238.44L292.22,242.39L300.04,241.63L307.28,240.57L314.02,240.26L320.33,238.90L326.25,238.14L331.84,237.81L337.12,237.49L342.13,237.20L346.90,236.51L351.45,235.55L355.79,234.64L359.95,234.63L363.94,235.04L367.77,235.44L371.46,235.91L375.01,236.54L378.44,237.01L381.75,236.51L384.96,236.03L388.06,235.56L391.07,235.11L393.98,234.23L396.82,233.38L399.57,232.55L402.25,231.74L404.85,230.96L407.39,230.19L409.86,229.45L412.28,228.72L414.63,228.01L416.93,227.32L419.18,226.75L421.37,226.22L423.52,225.69L425.62,225.18L427.68,224.68L429.69,224.19L431.67,223.83L433.60,223.54L435.50,223.25L437.36,222.97L439.19,222.70L440.98,222.43L442.74,222.17L444.47,221.91" fill="none" stroke="#0000ff" stroke-width="1.25" stroke-linejoin="round"/>
<circle cx="49.40" cy="271.08" r="2.80" fill="#0000ff" stroke="#0000ff" stroke-width="1.0"/><circle cx="117.13" cy="110.02" r="2.80" fill="#0000ff" stroke="#0000ff" stroke-width="1.0"/><circle cx="156.75" cy="123.68" r="2.80" fill="#0000ff" stroke="#0000ff" stroke-width="1.0"/><circle cx="184.86" cy="154.04" r="2.80" fill="#0000ff" stroke="#0000ff" stroke-width="1.0"/><circle cx="206.67" cy="175.29" r="2.80" fill="#0000ff" stroke="#0000ff" stroke-width="1.0"/><circle cx="224.48" cy="207.17" r="2.80" fill="#0000ff" stroke="#0000ff" stroke-width="1.0"/><circle cx="239.55" cy="208.84" r="2.80" fill="#0000ff" stroke="#0000ff" stroke-width="1.0"/><circle cx="252.60" cy="223.41" r="2.80" fill="#0000ff" stroke="#0000ff" stroke-width="1.0"/><circle cx="264.10" cy="224.93" r="2.80" fill="#0000ff" stroke="#0000ff" stroke-width="1.0"/><circle cx="274.40" cy="235.25" r="2.80" fill="#0000ff" stroke="#0000ff" stroke-width="1.0"/><circle cx="283.71" cy="238.44" r="2.80" fill="#0000ff" stroke="#0000ff" stroke-width="1.0"/><circle cx="292.22" cy="242.39" r="2.80" fill="#0000ff" stroke="#0000ff" stroke-width="1.0"/><circle cx="300.04" cy="241.63" r="2.80" fill="#0000ff" stroke="#0000ff" stroke-width="1.0"/><circle cx="307.28" cy="240.57" r="2.80" fill="#0000ff" stroke="#0000ff" stroke-width="1.0"/><circle cx="314.02" cy="240.26" r="2.80" fill="#0000ff" stroke="#0000ff" stroke-width="1.0"/><circle cx="320.33" cy="238.90" r="2.80" fill="#0000ff" stroke="#0000ff" stroke-width="1.0"/><circle cx="326.25" cy="238.14" r="2.80" fill="#0000ff" stroke="#0000ff" stroke-width="1.0"/><circle cx="331.84" cy="237.81" r="2.80" fill="#0000ff" stroke="#0000ff" stroke-width="1.0"/><circle cx="337.12" cy="237.49" r="2.80" fill="#0000ff" stroke="#0000ff" stroke-width="1.0"/><circle cx="342.13" cy="237.20" r="2.80" fill="#0000ff" stroke="#0000ff" stroke-width="1.0"/><circle cx="346.90" cy="236.51" r="2.80" fill="#0000ff" stroke="#0000ff" stroke-width="1.0"/><circle cx="351.45" cy="235.55" r="2.80" fill="#0000ff" stroke="#0000ff" stroke-width="1.0"/><circle cx="355.79" cy="234.64" r="2.80" fill="#0000ff" stroke="#0000ff" stroke-width="1.0"/><circle cx="359.95" cy="234.63" r="2.80" fill="#0000ff" stroke="#0000ff" stroke-width="1.0"/><circle cx="363.94" cy="235.04" r="2.80" fill="#0000ff" stroke="#0000ff" stroke-width="1.0"/><circle cx="367.77" cy="235.44" r="2.80" fill="#0000ff" stroke="#0000ff" stroke-width="1.0"/><circle cx="371.46" cy="235.91" r="2.80" fill="#0000ff" stroke="#0000ff" stroke-width="1.0"/><circle cx="375.01" cy="236.54" r="2.80" fill="#0000ff" stroke="#0000ff" stroke-width="1.0"/><circle cx="378.44" cy="237.01" r="2.80" fill="#0000ff" stroke="#0000ff" stroke-width="1.0"/><circle cx="381.75" cy="236.51" r="2.80" fill="#0000ff" stroke="#0000ff" stroke-width="1.0"/><circle cx="384.96" cy="236.03" r="2.80" fill="#0000ff" stroke="#0000ff" stroke-width="1.0"/><circle cx="388.06" cy="235.56" r="2.80" fill="#0000ff" stroke="#0000ff" stroke-width="1.0"/><circle cx="391.07" cy="235.11" r="2.80" fill="#0000ff" stroke="#0000ff" stroke-width="1.0"/><circle cx="393.98" cy="234.23" r="2.80" fill="#0000ff" stroke="#0000ff" stroke-width="1.0"/><circle cx="396.82" cy="233.38" r="2.80" fill="#0000ff" stroke="#0000ff" stroke-width="1.0"/><circle cx="399.57" cy="232.55" r="2.80" fill="#0000ff" stroke="#0000ff" stroke-width="1.0"/><circle cx="402.25" cy="231.74" r="2.80" fill="#0000ff" stroke="#0000ff" stroke-width="1.0"/><circle cx="404.85" cy="230.96" r="2.80" fill="#0000ff" stroke="#0000ff" stroke-width="1.0"/><circle cx="407.39" cy="230.19" r="2.80" fill="#0000ff" stroke="#0000ff" stroke-width="1.0"/><circle cx="409.86" cy="229.45" r="2.80" fill="#0000ff" stroke="#0000ff" stroke-width="1.0"/><circle cx="412.28" cy="228.72" r="2.80" fill="#0000ff" stroke="#0000ff" stroke-width="1.0"/><circle cx="414.63" cy="228.01" r="2.80" fill="#0000ff" stroke="#0000ff" stroke-width="1.0"/><circle cx="416.93" cy="227.32" r="2.80" fill="#0000ff" stroke="#0000ff" stroke-width="1.0"/><circle cx="419.18" cy="226.75" r="2.80" fill="#0000ff" stroke="#0000ff" stroke-width="1.0"/><circle cx="421.37" cy="226.22" r="2.80" fill="#0000ff" stroke="#0000ff" stroke-width="1.0"/><circle cx="423.52" cy="225.69" r="2.80" fill="#0000ff" stroke="#0000ff" stroke-width="1.0"/><circle cx="425.62" cy="225.18" r="2.80" fill="#0000ff" stroke="#0000ff" stroke-width="1.0"/><circle cx="427.68" cy="224.68" r="2.80" fill="#0000ff" stroke="#0000ff" stroke-width="1.0"/><circle cx="429.69" cy="224.19" r="2.80" fill="#0000ff" stroke="#0000ff" stroke-width="1.0"/><circle cx="431.67" cy="223.83" r="2.80" fill="#0000ff" stroke="#0000ff" stroke-width="1.0"/><circle cx="433.60" cy="223.54" r="2.80" fill="#0000ff" stroke="#0000ff" stroke-width="1.0"/><circle cx="435.50" cy="223.25" r="2.80" fill="#0000ff" stroke="#0000ff" stroke-width="1.0"/><circle cx="437.36" cy="222.97" r="2.80" fill="#0000ff" stroke="#0000ff" stroke-width="1.0"/><circle cx="439.19" cy="222.70" r="2.80" fill="#0000ff" stroke="#0000ff" stroke-width="1.0"/><circle cx="440.98" cy="222.43" r="2.80" fill="#0000ff" stroke="#0000ff" stroke-width="1.0"/><circle cx="442.74" cy="222.17" r="2.80" fill="#0000ff" stroke="#0000ff" stroke-width="1.0"/><circle cx="444.47" cy="221.91" r="2.80" fill="#0000ff" stroke="#0000ff" stroke-width="1.0"/>
<path d="M49.40,271.08L117.13,67.51L156.75,116.09L184.86,131.27L206.67,138.86L224.48,190.47L239.55,191.38L252.60,206.71L264.10,210.21L274.40,220.68L283.71,225.84L292.22,231.76L300.04,232.67L307.28,234.34L314.02,236.47L320.33,238.14L326.25,238.14L331.84,241.84L337.12,243.18L342.13,244.44L346.90,245.91L351.45,247.51L355.79,249.03L359.95,251.06L363.94,253.30L367.77,255.37L371.46,257.20L375.01,258.97L378.44,260.68L381.75,262.10L384.96,263.37L388.06,264.60L391.07,265.78L393.98,266.64L396.82,267.46L399.57,268.27L402.25,269.05L404.85,269.78L407.39,270.43L409.86,271.07L412.28,271.69L414.63,272.29L416.93,272.88L419.18,273.15L421.37,273.40L423.52,273.65L425.62,273.89L427.68,274.12L429.69,274.36L431.67,274.58L433.60,274.80L435.50,275.02L437.36,275.23L439.19,275.44L440.98,275.65L442.74,275.85L444.47,276.05" fill="none" stroke="#008000" stroke-width="1.25" stroke-linejoin="round"/>
<path d="M48.47,268.28L50.33,268.28L50.33,270.14L52.20,270.14L52.20,272.01L50.33,272.01L50.33,273.88L48.47,273.88L48.47,272.01L46.60,272.01L46.60,270.14L48.47,270.14ZM116.20,64.71L118.07,64.71L118.07,66.58L119.93,66.58L119.93,68.45L118.07,68.45L118.07,70.31L116.20,70.31L116.20,68.45L114.33,68.45L114.33,66.58L116.20,66.58ZM155.82,113.29L157.69,113.29L157.69,115.16L159.55,115.16L159.55,117.02L157.69,117.02L157.69,118.89L155.82,118.89L155.82,117.02L153.95,117.02L153.95,115.16L155.82,115.16ZM183.93,128.47L185.80,128.47L185.80,130.34L187.66,130.34L187.66,132.20L185.80,132.20L185.80,134.07L183.93,134.07L183.93,132.20L182.06,132.20L182.06,130.34L183.93,130.34ZM205.73,136.06L207.60,136.06L207.60,137.93L209.47,137.93L209.47,139.79L207.60,139.79L207.60,141.66L205.73,141.66L205.73,139.79L203.87,139.79L203.87,137.93L205.73,137.93ZM223.55,187.67L225.42,187.67L225.42,189.54L227.28,189.54L227.28,191.41L225.42,191.41L225.42,193.27L223.55,193.27L223.55,191.41L221.68,191.41L221.68,189.54L223.55,189.54ZM238.61,188.58L240.48,188.58L240.48,190.45L242.35,190.45L242.35,192.32L240.48,192.32L240.48,194.18L238.61,194.18L238.61,192.32L236.75,192.32L236.75,190.45L238.61,190.45ZM251.66,203.91L253.53,203.91L253.53,205.78L255.40,205.78L255.40,207.65L253.53,207.65L253.53,209.51L251.66,209.51L251.66,207.65L249.80,207.65L249.80,205.78L251.66,205.78ZM263.17,207.41L265.04,207.41L265.04,209.27L266.90,209.27L266.90,211.14L265.04,211.14L265.04,213.01L263.17,213.01L263.17,211.14L261.30,211.14L261.30,209.27L263.17,209.27ZM273.47,217.88L275.33,217.88L275.33,219.75L277.20,219.75L277.20,221.61L275.33,221.61L275.33,223.48L273.47,223.48L273.47,221.61L271.60,221.61L271.60,219.75L273.47,219.75ZM282.78,223.04L284.65,223.04L284.65,224.91L286.51,224.91L286.51,226.77L284.65,226.77L284.65,228.64L282.78,228.64L282.78,226.77L280.91,226.77L280.91,224.91L282.78,224.91ZM291.28,228.96L293.15,228.96L293.15,230.83L295.02,230.83L295.02,232.69L293.15,232.69L293.15,234.56L291.28,234.56L291.28,232.69L289.42,232.69L289.42,230.83L291.28,230.83ZM299.10,229.87L300.97,229.87L300.97,231.74L302.84,231.74L302.84,233.61L300.97,233.61L300.97,235.47L299.10,235.47L299.10,233.61L297.24,233.61L297.24,231.74L299.10,231.74ZM306.35,231.54L308.21,231.54L308.21,233.41L310.08,233.41L310.08,235.28L308.21,235.28L308.21,237.14L306.35,237.14L306.35,235.28L304.48,235.28L304.48,233.41L306.35,233.41ZM313.09,233.67L314.95,233.67L314.95,235.53L316.82,235.53L316.82,237.40L314.95,237.40L314.95,239.27L313.09,239.27L313.09,237.40L311.22,237.40L311.22,235.53L313.09,235.53ZM319.39,235.34L321.26,235.34L321.26,237.20L323.13,237.20L323.13,239.07L321.26,239.07L321.26,240.94L319.39,240.94L319.39,239.07L317.53,239.07L317.53,237.20L319.39,237.20ZM325.32,235.34L327.18,235.34L327.18,237.20L329.05,237.20L329.05,239.07L327.18,239.07L327.18,240.94L325.32,240.94L325.32,239.07L323.45,239.07L323.45,237.20L325.32,237.20ZM330.90,239.04L332.77,239.04L332.77,240.91L334.64,240.91L334.64,242.77L332.77,242.77L332.77,244.64L330.90,244.64L330.90,242.77L329.04,242.77L329.04,240.91L330.90,240.91ZM336.19,240.38L338.05,240.38L338.05,242.24L339.92,242.24L339.92,244.11L338.05,244.11L338.05,245.98L336.19,245.98L336.19,244.11L334.32,244.11L334.32,242.24L336.19,242.24ZM341.20,241.64L343.07,241.64L343.07,243.51L344.93,243.51L344.93,245.38L343.07,245.38L343.07,247.24L341.20,247.24L341.20,245.38L339.33,245.38L339.33,243.51L341.20,243.51ZM345.97,243.11L347.83,243.11L347.83,244.98L349.70,244.98L349.70,246.85L347.83,246.85L347.83,248.71L345.97,248.71L345.97,246.85L344.10,246.85L344.10,244.98L345.97,244.98ZM350.51,244.71L352.38,244.71L352.38,246.57L354.25,246.57L354.25,248.44L352.38,248.44L352.38,250.31L350.51,250.31L350.51,248.44L348.65,248.44L348.65,246.57L350.51,246.57ZM354.86,246.23L356.72,246.23L356.72,248.09L358.59,248.09L358.59,249.96L356.72,249.96L356.72,251.83L354.86,251.83L354.86,249.96L352.99,249.96L352.99,248.09L354.86,248.09ZM359.01,248.26L360.88,248.26L360.88,250.13L362.75,250.13L362.75,252.00L360.88,252.00L360.88,253.86L359.01,253.86L359.01,252.00L357.15,252.00L357.15,250.13L359.01,250.13ZM363.00,250.50L364.87,250.50L364.87,252.37L366.74,252.37L366.74,254.23L364.87,254.23L364.87,256.10L363.00,256.10L363.00,254.23L361.14,254.23L361.14,252.37L363.00,252.37ZM366.84,252.57L368.70,252.57L368.70,254.43L370.57,254.43L370.57,256.30L368.70,256.30L368.70,258.17L366.84,258.17L366.84,256.30L364.97,256.30L364.97,254.43L366.84,254.43ZM370.52,254.40L372.39,254.40L372.39,256.27L374.26,256.27L374.26,258.14L372.39,258.14L372.39,260.00L370.52,260.00L370.52,258.14L368.66,258.14L368.66,256.27L370.52,256.27ZM374.08,256.17L375.94,256.17L375.94,258.04L377.81,258.04L377.81,259.91L375.94,259.91L375.94,261.77L374.08,261.77L374.08,259.91L372.21,259.91L372.21,258.04L374.08,258.04ZM377.51,257.88L379.37,257.88L379.37,259.75L381.24,259.75L381.24,261.62L379.37,261.62L379.37,263.48L377.51,263.48L377.51,261.62L375.64,261.62L375.64,259.75L377.51,259.75ZM380.82,259.30L382.69,259.30L382.69,261.17L384.55,261.17L384.55,263.04L382.69,263.04L382.69,264.90L380.82,264.90L380.82,263.04L378.95,263.04L378.95,261.17L380.82,261.17ZM384.02,260.57L385.89,260.57L385.89,262.44L387.76,262.44L387.76,264.30L385.89,264.30L385.89,266.17L384.02,266.17L384.02,264.30L382.16,264.30L382.16,262.44L384.02,262.44ZM387.13,261.80L388.99,261.80L388.99,263.67L390.86,263.67L390.86,265.53L388.99,265.53L388.99,267.40L387.13,267.40L387.13,265.53L385.26,265.53L385.26,263.67L387.13,263.67ZM390.13,262.98L392.00,262.98L392.00,264.85L393.87,264.85L393.87,266.72L392.00,266.72L392.00,268.58L390.13,268.58L390.13,266.72L388.27,266.72L388.27,264.85L390.13,264.85ZM393.05,263.84L394.92,263.84L394.92,265.70L396.78,265.70L396.78,267.57L394.92,267.57L394.92,269.44L393.05,269.44L393.05,267.57L391.18,267.57L391.18,265.70L393.05,265.70ZM395.88,264.66L397.75,264.66L397.75,266.53L399.62,266.53L399.62,268.40L397.75,268.40L397.75,270.26L395.88,270.26L395.88,268.40L394.02,268.40L394.02,266.53L395.88,266.53ZM398.63,265.47L400.50,265.47L400.50,267.33L402.37,267.33L402.37,269.20L400.50,269.20L400.50,271.07L398.63,271.07L398.63,269.20L396.77,269.20L396.77,267.33L398.63,267.33ZM401.31,266.25L403.18,266.25L403.18,268.11L405.05,268.11L405.05,269.98L403.18,269.98L403.18,271.85L401.31,271.85L401.31,269.98L399.45,269.98L399.45,268.11L401.31,268.11ZM403.92,266.98L405.78,266.98L405.78,268.85L407.65,268.85L407.65,270.71L405.78,270.71L405.78,272.58L403.92,272.58L403.92,270.71L402.05,270.71L402.05,268.85L403.92,268.85ZM406.46,267.63L408.32,267.63L408.32,269.50L410.19,269.50L410.19,271.36L408.32,271.36L408.32,273.23L406.46,273.23L406.46,271.36L404.59,271.36L404.59,269.50L406.46,269.50ZM408.93,268.27L410.80,268.27L410.80,270.13L412.66,270.13L412.66,272.00L410.80,272.00L410.80,273.87L408.93,273.87L408.93,272.00L407.06,272.00L407.06,270.13L408.93,270.13ZM411.34,268.89L413.21,268.89L413.21,270.75L415.08,270.75L415.08,272.62L413.21,272.62L413.21,274.49L411.34,274.49L411.34,272.62L409.48,272.62L409.48,270.75L411.34,270.75ZM413.70,269.49L415.56,269.49L415.56,271.36L417.43,271.36L417.43,273.22L415.56,273.22L415.56,275.09L413.70,275.09L413.70,273.22L411.83,273.22L411.83,271.36L413.70,271.36ZM416.00,270.08L417.86,270.08L417.86,271.95L419.73,271.95L419.73,273.81L417.86,273.81L417.86,275.68L416.00,275.68L416.00,273.81L414.13,273.81L414.13,271.95L416.00,271.95ZM418.24,270.35L420.11,270.35L420.11,272.22L421.98,272.22L421.98,274.08L420.11,274.08L420.11,275.95L418.24,275.95L418.24,274.08L416.38,274.08L416.38,272.22L418.24,272.22ZM420.44,270.60L422.31,270.60L422.31,272.47L424.17,272.47L424.17,274.33L422.31,274.33L422.31,276.20L420.44,276.20L420.44,274.33L418.57,274.33L418.57,272.47L420.44,272.47ZM422.59,270.85L424.45,270.85L424.45,272.71L426.32,272.71L426.32,274.58L424.45,274.58L424.45,276.45L422.59,276.45L422.59,274.58L420.72,274.58L420.72,272.71L422.59,272.71ZM424.69,271.09L426.56,271.09L426.56,272.95L428.42,272.95L428.42,274.82L426.56,274.82L426.56,276.69L424.69,276.69L424.69,274.82L422.82,274.82L422.82,272.95L424.69,272.95ZM426.75,271.32L428.61,271.32L428.61,273.19L430.48,273.19L430.48,275.06L428.61,275.06L428.61,276.92L426.75,276.92L426.75,275.06L424.88,275.06L424.88,273.19L426.75,273.19ZM428.76,271.56L430.63,271.56L430.63,273.42L432.49,273.42L432.49,275.29L430.63,275.29L430.63,277.16L428.76,277.16L428.76,275.29L426.89,275.29L426.89,273.42L428.76,273.42ZM430.73,271.78L432.60,271.78L432.60,273.65L434.47,273.65L434.47,275.52L432.60,275.52L432.60,277.38L430.73,277.38L430.73,275.52L428.87,275.52L428.87,273.65L430.73,273.65ZM432.67,272.00L434.54,272.00L434.54,273.87L436.40,273.87L436.40,275.74L434.54,275.74L434.54,277.60L432.67,277.60L432.67,275.74L430.80,275.74L430.80,273.87L432.67,273.87ZM434.57,272.22L436.43,272.22L436.43,274.09L438.30,274.09L438.30,275.95L436.43,275.95L436.43,277.82L434.57,277.82L434.57,275.95L432.70,275.95L432.70,274.09L434.57,274.09ZM436.43,272.43L438.30,272.43L438.30,274.30L440.16,274.30L440.16,276.17L438.30,276.17L438.30,278.03L436.43,278.03L436.43,276.17L434.56,276.17L434.56,274.30L436.43,274.30ZM438.26,272.64L440.12,272.64L440.12,274.51L441.99,274.51L441.99,276.38L440.12,276.38L440.12,278.24L438.26,278.24L438.26,276.38L436.39,276.38L436.39,274.51L438.26,274.51ZM440.05,272.85L441.91,272.85L441.91,274.72L443.78,274.72L443.78,276.58L441.91,276.58L441.91,278.45L440.05,278.45L440.05,276.58L438.18,276.58L438.18,274.72L440.05,274.72ZM441.81,273.05L443.68,273.05L443.68,274.92L445.54,274.92L445.54,276.79L443.68,276.79L443.68,278.65L441.81,278.65L441.81,276.79L439.94,276.79L439.94,274.92L441.81,274.92ZM443.54,273.25L445.41,273.25L445.41,275.12L447.27,275.12L447.27,276.98L445.41,276.98L445.41,278.85L443.54,278.85L443.54,276.98L441.67,276.98L441.67,275.12L443.54,275.12Z" fill="#008000" stroke="#008000" stroke-width="1.0" stroke-linejoin="miter"/>
</g>
<clipPath id="c10"><rect x="440.4" y="181.5" width="396.20000000000005" height="162.0"/></clipPath>
<g clip-path="url(#c10)">
<path d="M445.40,225.08L450.17,226.36L454.94,227.58L459.70,228.76L464.47,229.90L469.24,231.00L474.01,232.06L478.77,233.08L483.54,234.06L488.31,235.06L493.08,236.16L497.84,237.21L502.61,238.21L507.38,239.17L512.15,240.17L516.91,241.28L521.68,242.33L526.45,243.33L531.22,244.26L535.98,245.14L540.75,245.96L545.52,246.74L550.29,247.47L555.05,248.16L559.82,248.97L564.59,249.72L569.36,250.42L574.12,251.07L578.89,251.68L583.66,252.32L588.43,252.91L593.20,253.45L597.96,253.96L602.73,254.42L607.50,254.84L612.27,255.22L617.03,255.58L621.80,255.92L626.57,256.24L631.34,256.64L636.10,257.01L640.87,257.34L645.64,257.64L650.41,257.89L655.17,258.08L659.94,258.24L664.71,258.40L669.48,258.54L674.24,258.67L679.01,258.79L683.78,258.91L688.55,259.01L693.31,259.11L698.08,259.20L702.85,259.28L707.62,259.36L712.39,259.43L717.15,259.49L721.92,259.55L726.69,259.61L731.46,259.66L736.22,259.71L740.99,259.75L745.76,259.80L750.53,259.83L755.29,259.87L760.06,259.90L764.83,259.93L769.60,259.96L774.36,259.98L779.13,260.01L783.90,260.03L788.67,260.05L793.43,260.07L798.20,260.09L802.97,260.10L807.74,260.12L812.50,260.13L817.27,260.14L822.04,260.16L826.81,260.17L831.57,260.18L836.34,260.19L836.34,260.41L831.57,260.42L826.81,260.43L822.04,260.44L817.27,260.46L812.50,260.47L807.74,260.48L802.97,260.50L798.20,260.51L793.43,260.53L788.67,260.55L783.90,260.57L779.13,260.59L774.36,260.62L769.60,260.64L764.83,260.67L760.06,260.70L755.29,260.73L750.53,260.77L745.76,260.80L740.99,260.85L736.22,260.89L731.46,260.94L726.69,260.99L721.92,261.05L717.15,261.11L712.39,261.17L707.62,261.24L702.85,261.32L698.08,261.40L693.31,261.49L688.55,261.59L683.78,261.69L679.01,261.81L674.24,261.93L669.48,262.06L664.71,262.20L659.94,262.36L655.17,262.52L650.41,262.71L645.64,262.96L640.87,263.26L636.10,263.59L631.34,263.96L626.57,264.36L621.80,264.68L617.03,265.02L612.27,265.38L607.50,265.76L602.73,266.18L597.96,266.64L593.20,267.15L588.43,267.69L583.66,268.28L578.89,268.92L574.12,269.53L569.36,270.18L564.59,270.88L559.82,271.63L555.05,272.44L550.29,273.13L545.52,273.86L540.75,274.64L535.98,275.46L531.22,276.34L526.45,277.27L521.68,278.27L516.91,279.32L512.15,280.43L507.38,281.43L502.61,282.39L497.84,283.39L493.08,284.44L488.31,285.54L483.54,286.54L478.77,287.52L474.01,288.54L469.24,289.60L464.47,290.70L459.70,291.84L454.94,293.02L450.17,294.24L445.40,295.52Z" fill="#ffcc9f" stroke="#f6b27e" stroke-width="0.6"/>
<line x1="440.4" x2="836.6" y1="260.30" y2="260.30" stroke="#000" stroke-width="1.15"/>
<line x1="440.4" x2="836.6" y1="245.12" y2="245.12" stroke="#000" stroke-width="1.0" stroke-dasharray="3.1 1.4"/>
<line x1="440.4" x2="836.6" y1="275.48" y2="275.48" stroke="#000" stroke-width="1.0" stroke-dasharray="3.1 1.4"/>
<line x1="440.4" x2="836.6" y1="252.71" y2="252.71" stroke="#000" stroke-width="1.1" stroke-dasharray="0.85 1.4"/>
<line x1="440.4" x2="836.6" y1="267.89" y2="267.89" stroke="#000" stroke-width="1.1" stroke-dasharray="0.85 1.4"/>
<path d="M445.40,268.80L513.13,251.04L552.75,299.77L580.86,305.38L602.67,316.47L620.48,316.62L635.55,315.86L648.60,321.32L660.10,316.16L670.40,314.95L679.71,311.30L688.22,309.63L696.04,308.57L703.28,305.08L710.02,304.02L716.33,302.80L722.25,301.89L727.84,301.34L733.12,300.98L738.13,300.98L742.90,300.98L747.45,300.97L751.79,300.76L755.95,300.55L759.94,300.36L763.77,300.45L767.46,301.19L771.01,301.69L774.44,302.17L777.75,302.64L780.96,303.09L784.06,303.53L787.07,304.23L789.98,304.93L792.82,305.61L795.57,306.27L798.25,306.92L800.85,307.54L803.39,308.22L805.86,309.02L808.28,309.79L810.63,310.55L812.93,311.29L815.18,312.01L817.37,312.72L819.52,313.41L821.62,314.11L823.68,314.86L825.69,315.59L827.67,316.31L829.60,317.02L831.50,317.71L833.36,318.38L835.19,319.05L836.98,319.70L838.74,320.34L840.47,320.97" fill="none" stroke="#ff0000" stroke-width="1.25" stroke-linejoin="round"/>
<path d="M442.60,266.00L448.20,266.00L445.40,271.60ZM510.33,248.24L515.93,248.24L513.13,253.84ZM549.95,296.97L555.55,296.97L552.75,302.57ZM578.06,302.58L583.66,302.58L580.86,308.18ZM599.87,313.67L605.47,313.67L602.67,319.27ZM617.68,313.82L623.28,313.82L620.48,319.42ZM632.75,313.06L638.35,313.06L635.55,318.66ZM645.80,318.52L651.40,318.52L648.60,324.12ZM657.30,313.36L662.90,313.36L660.10,318.96ZM667.60,312.15L673.20,312.15L670.40,317.75ZM676.91,308.50L682.51,308.50L679.71,314.10ZM685.42,306.83L691.02,306.83L688.22,312.44ZM693.24,305.77L698.84,305.77L696.04,311.37ZM700.48,302.28L706.08,302.28L703.28,307.88ZM707.22,301.22L712.82,301.22L710.02,306.82ZM713.53,300.00L719.13,300.00L716.33,305.60ZM719.45,299.09L725.05,299.09L722.25,304.69ZM725.04,298.54L730.64,298.54L727.84,304.14ZM730.32,298.18L735.92,298.18L733.12,303.78ZM735.33,298.18L740.93,298.18L738.13,303.78ZM740.10,298.18L745.70,298.18L742.90,303.78ZM744.65,298.17L750.25,298.17L747.45,303.77ZM748.99,297.96L754.59,297.96L751.79,303.56ZM753.15,297.75L758.75,297.75L755.95,303.35ZM757.14,297.56L762.74,297.56L759.94,303.16ZM760.97,297.65L766.57,297.65L763.77,303.25ZM764.66,298.39L770.26,298.39L767.46,303.99ZM768.21,298.89L773.81,298.89L771.01,304.49ZM771.64,299.37L777.24,299.37L774.44,304.97ZM774.95,299.84L780.55,299.84L777.75,305.44ZM778.16,300.29L783.76,300.29L780.96,305.89ZM781.26,300.73L786.86,300.73L784.06,306.33ZM784.27,301.43L789.87,301.43L787.07,307.03ZM787.18,302.13L792.78,302.13L789.98,307.73ZM790.02,302.81L795.62,302.81L792.82,308.41ZM792.77,303.47L798.37,303.47L795.57,309.07ZM795.45,304.12L801.05,304.12L798.25,309.72ZM798.05,304.74L803.65,304.74L800.85,310.34ZM800.59,305.42L806.19,305.42L803.39,311.02ZM803.06,306.22L808.66,306.22L805.86,311.82ZM805.48,306.99L811.08,306.99L808.28,312.59ZM807.83,307.75L813.43,307.75L810.63,313.35ZM810.13,308.49L815.73,308.49L812.93,314.09ZM812.38,309.21L817.98,309.21L815.18,314.81ZM814.57,309.92L820.17,309.92L817.37,315.52ZM816.72,310.61L822.32,310.61L819.52,316.21ZM818.82,311.31L824.42,311.31L821.62,316.91ZM820.88,312.06L826.48,312.06L823.68,317.66ZM822.89,312.79L828.49,312.79L825.69,318.39ZM824.87,313.51L830.47,313.51L827.67,319.11ZM826.80,314.22L832.40,314.22L829.60,319.82ZM828.70,314.91L834.30,314.91L831.50,320.51ZM830.56,315.58L836.16,315.58L833.36,321.18ZM832.39,316.25L837.99,316.25L835.19,321.85ZM834.18,316.90L839.78,316.90L836.98,322.50ZM835.94,317.54L841.54,317.54L838.74,323.14ZM837.67,318.17L843.27,318.17L840.47,323.77Z" fill="#ff0000" stroke="#ff0000" stroke-width="1.0" stroke-linejoin="miter"/>
<path d="M445.40,280.64L513.13,247.40L552.75,292.94L580.86,296.43L602.67,306.45L620.48,304.78L635.55,302.65L648.60,308.12L660.10,300.07L670.40,299.16L679.71,293.09L688.22,289.75L696.04,285.50L703.28,279.58L710.02,274.57L716.33,270.77L722.25,266.83L727.84,262.88L733.12,259.54L738.13,257.25L742.90,255.07L747.45,253.00L751.79,250.74L755.95,248.02L759.94,245.41L763.77,242.91L767.46,240.01L771.01,237.04L774.44,234.18L777.75,231.41L780.96,229.48L784.06,227.88L787.07,226.33L789.98,224.82L792.82,223.36L795.57,222.28L798.25,221.31L800.85,220.36L803.39,219.44L805.86,218.54L808.28,217.70L810.63,217.11L812.93,216.52L815.18,215.95L817.37,215.40L819.52,214.86L821.62,214.32L823.68,213.80L825.69,213.19L827.67,212.49L829.60,211.80L831.50,211.12L833.36,210.46L835.19,209.81L836.98,209.17L838.74,208.54L840.47,207.92" fill="none" stroke="#00ffff" stroke-width="1.25" stroke-linejoin="round"/>
<circle cx="445.40" cy="280.64" r="1.6" fill="#00ffff"/><circle cx="513.13" cy="247.40" r="1.6" fill="#00ffff"/><circle cx="552.75" cy="292.94" r="1.6" fill="#00ffff"/><circle cx="580.86" cy="296.43" r="1.6" fill="#00ffff"/><circle cx="602.67" cy="306.45" r="1.6" fill="#00ffff"/><circle cx="620.48" cy="304.78" r="1.6" fill="#00ffff"/><circle cx="635.55" cy="302.65" r="1.6" fill="#00ffff"/><circle cx="648.60" cy="308.12" r="1.6" fill="#00ffff"/><circle cx="660.10" cy="300.07" r="1.6" fill="#00ffff"/><circle cx="670.40" cy="299.16" r="1.6" fill="#00ffff"/><circle cx="679.71" cy="293.09" r="1.6" fill="#00ffff"/><circle cx="688.22" cy="289.75" r="1.6" fill="#00ffff"/><circle cx="696.04" cy="285.50" r="1.6" fill="#00ffff"/><circle cx="703.28" cy="279.58" r="1.6" fill="#00ffff"/><circle cx="710.02" cy="274.57" r="1.6" fill="#00ffff"/><circle cx="716.33" cy="270.77" r="1.6" fill="#00ffff"/><circle cx="722.25" cy="266.83" r="1.6" fill="#00ffff"/><circle cx="727.84" cy="262.88" r="1.6" fill="#00ffff"/><circle cx="733.12" cy="259.54" r="1.6" fill="#00ffff"/><circle cx="738.13" cy="257.25" r="1.6" fill="#00ffff"/><circle cx="742.90" cy="255.07" r="1.6" fill="#00ffff"/><circle cx="747.45" cy="253.00" r="1.6" fill="#00ffff"/><circle cx="751.79" cy="250.74" r="1.6" fill="#00ffff"/><circle cx="755.95" cy="248.02" r="1.6" fill="#00ffff"/><circle cx="759.94" cy="245.41" r="1.6" fill="#00ffff"/><circle cx="763.77" cy="242.91" r="1.6" fill="#00ffff"/><circle cx="767.46" cy="240.01" r="1.6" fill="#00ffff"/><circle cx="771.01" cy="237.04" r="1.6" fill="#00ffff"/><circle cx="774.44" cy="234.18" r="1.6" fill="#00ffff"/><circle cx="777.75" cy="231.41" r="1.6" fill="#00ffff"/><circle cx="780.96" cy="229.48" r="1.6" fill="#00ffff"/><circle cx="784.06" cy="227.88" r="1.6" fill="#00ffff"/><circle cx="787.07" cy="226.33" r="1.6" fill="#00ffff"/><circle cx="789.98" cy="224.82" r="1.6" fill="#00ffff"/><circle cx="792.82" cy="223.36" r="1.6" fill="#00ffff"/><circle cx="795.57" cy="222.28" r="1.6" fill="#00ffff"/><circle cx="798.25" cy="221.31" r="1.6" fill="#00ffff"/><circle cx="800.85" cy="220.36" r="1.6" fill="#00ffff"/><circle cx="803.39" cy="219.44" r="1.6" fill="#00ffff"/><circle cx="805.86" cy="218.54" r="1.6" fill="#00ffff"/><circle cx="808.28" cy="217.70" r="1.6" fill="#00ffff"/><circle cx="810.63" cy="217.11" r="1.6" fill="#00ffff"/><circle cx="812.93" cy="216.52" r="1.6" fill="#00ffff"/><circle cx="815.18" cy="215.95" r="1.6" fill="#00ffff"/><circle cx="817.37" cy="215.40" r="1.6" fill="#00ffff"/><circle cx="819.52" cy="214.86" r="1.6" fill="#00ffff"/><circle cx="821.62" cy="214.32" r="1.6" fill="#00ffff"/><circle cx="823.68" cy="213.80" r="1.6" fill="#00ffff"/><circle cx="825.69" cy="213.19" r="1.6" fill="#00ffff"/><circle cx="827.67" cy="212.49" r="1.6" fill="#00ffff"/><circle cx="829.60" cy="211.80" r="1.6" fill="#00ffff"/><circle cx="831.50" cy="211.12" r="1.6" fill="#00ffff"/><circle cx="833.36" cy="210.46" r="1.6" fill="#00ffff"/><circle cx="835.19" cy="209.81" r="1.6" fill="#00ffff"/><circle cx="836.98" cy="209.17" r="1.6" fill="#00ffff"/><circle cx="838.74" cy="208.54" r="1.6" fill="#00ffff"/><circle cx="840.47" cy="207.92" r="1.6" fill="#00ffff"/>
<path d="M445.40,280.49L513.13,246.18L552.75,291.72L580.86,295.21L602.67,305.23L620.48,303.56L635.55,301.44L648.60,306.90L660.10,298.86L670.40,297.95L679.71,292.18L688.22,290.36L696.04,287.47L703.28,282.46L710.02,279.58L716.33,277.76L722.25,275.48L727.84,274.19L733.12,272.69L738.13,271.21L742.90,269.80L747.45,268.41L751.79,267.09L755.95,265.81L759.94,265.10L763.77,264.75L767.46,264.40L771.01,264.02L774.44,263.66L777.75,263.31L780.96,263.03L784.06,263.03L787.07,263.03L789.98,263.03L792.82,263.03L795.57,263.23L798.25,263.90L800.85,264.56L803.39,265.21L805.86,265.83L808.28,266.44L810.63,267.16L812.93,267.93L815.18,268.69L817.37,269.43L819.52,270.16L821.62,270.87L823.68,271.56L825.69,272.20L827.67,272.83L829.60,273.45L831.50,274.06L833.36,274.65L835.19,275.24L836.98,275.81L838.74,276.37L840.47,276.93" fill="none" stroke="#00ff00" stroke-width="1.25" stroke-linejoin="round"/>
<path d="M442.60,277.69L448.20,283.29M442.60,283.29L448.20,277.69M510.33,243.38L515.93,248.98M510.33,248.98L515.93,243.38M549.95,288.92L555.55,294.52M549.95,294.52L555.55,288.92M578.06,292.41L583.66,298.01M578.06,298.01L583.66,292.41M599.87,302.43L605.47,308.03M599.87,308.03L605.47,302.43M617.68,300.76L623.28,306.36M617.68,306.36L623.28,300.76M632.75,298.64L638.35,304.24M632.75,304.24L638.35,298.64M645.80,304.10L651.40,309.70M645.80,309.70L651.40,304.10M657.30,296.06L662.90,301.66M657.30,301.66L662.90,296.06M667.60,295.15L673.20,300.75M667.60,300.75L673.20,295.15M676.91,289.38L682.51,294.98M676.91,294.98L682.51,289.38M685.42,287.56L691.02,293.16M685.42,293.16L691.02,287.56M693.24,284.67L698.84,290.27M693.24,290.27L698.84,284.67M700.48,279.66L706.08,285.26M700.48,285.26L706.08,279.66M707.22,276.78L712.82,282.38M707.22,282.38L712.82,276.78M713.53,274.96L719.13,280.56M713.53,280.56L719.13,274.96M719.45,272.68L725.05,278.28M719.45,278.28L725.05,272.68M725.04,271.39L730.64,276.99M725.04,276.99L730.64,271.39M730.32,269.89L735.92,275.49M730.32,275.49L735.92,269.89M735.33,268.41L740.93,274.01M735.33,274.01L740.93,268.41M740.10,267.00L745.70,272.60M740.10,272.60L745.70,267.00M744.65,265.61L750.25,271.21M744.65,271.21L750.25,265.61M748.99,264.29L754.59,269.89M748.99,269.89L754.59,264.29M753.15,263.01L758.75,268.61M753.15,268.61L758.75,263.01M757.14,262.30L762.74,267.90M757.14,267.90L762.74,262.30M760.97,261.95L766.57,267.55M760.97,267.55L766.57,261.95M764.66,261.60L770.26,267.20M764.66,267.20L770.26,261.60M768.21,261.22L773.81,266.82M768.21,266.82L773.81,261.22M771.64,260.86L777.24,266.46M771.64,266.46L777.24,260.86M774.95,260.51L780.55,266.11M774.95,266.11L780.55,260.51M778.16,260.23L783.76,265.83M778.16,265.83L783.76,260.23M781.26,260.23L786.86,265.83M781.26,265.83L786.86,260.23M784.27,260.23L789.87,265.83M784.27,265.83L789.87,260.23M787.18,260.23L792.78,265.83M787.18,265.83L792.78,260.23M790.02,260.23L795.62,265.83M790.02,265.83L795.62,260.23M792.77,260.43L798.37,266.03M792.77,266.03L798.37,260.43M795.45,261.10L801.05,266.70M795.45,266.70L801.05,261.10M798.05,261.76L803.65,267.36M798.05,267.36L803.65,261.76M800.59,262.41L806.19,268.01M800.59,268.01L806.19,262.41M803.06,263.03L808.66,268.63M803.06,268.63L808.66,263.03M805.48,263.64L811.08,269.24M805.48,269.24L811.08,263.64M807.83,264.36L813.43,269.96M807.83,269.96L813.43,264.36M810.13,265.13L815.73,270.73M810.13,270.73L815.73,265.13M812.38,265.89L817.98,271.49M812.38,271.49L817.98,265.89M814.57,266.63L820.17,272.23M814.57,272.23L820.17,266.63M816.72,267.36L822.32,272.96M816.72,272.96L822.32,267.36M818.82,268.07L824.42,273.67M818.82,273.67L824.42,268.07M820.88,268.76L826.48,274.36M820.88,274.36L826.48,268.76M822.89,269.40L828.49,275.00M822.89,275.00L828.49,269.40M824.87,270.03L830.47,275.63M824.87,275.63L830.47,270.03M826.80,270.65L832.40,276.25M826.80,276.25L832.40,270.65M828.70,271.26L834.30,276.86M828.70,276.86L834.30,271.26M830.56,271.85L836.16,277.45M830.56,277.45L836.16,271.85M832.39,272.44L837.99,278.04M832.39,278.04L837.99,272.44M834.18,273.01L839.78,278.61M834.18,278.61L839.78,273.01M835.94,273.57L841.54,279.17M835.94,279.17L841.54,273.57M837.67,274.13L843.27,279.73M837.67,279.73L843.27,274.13" fill="none" stroke="#00ff00" stroke-width="1.1"/>
<path d="M445.40,266.83L513.13,208.84L552.75,231.00L580.86,218.86L602.67,236.62L620.48,232.98L635.55,241.78L648.60,260.00L660.10,261.82L670.40,268.35L679.71,270.32L688.22,274.72L696.04,277.30L703.28,278.21L710.02,280.64L716.33,283.17L722.25,284.15L727.84,285.06L733.12,286.10L738.13,287.41L742.90,288.65L747.45,289.81L751.79,290.57L755.95,291.29L759.94,291.98L763.77,292.77L767.46,293.85L771.01,294.62L774.44,295.17L777.75,295.69L780.96,296.20L784.06,296.69L787.07,297.65L789.98,298.62L792.82,299.56L795.57,300.47L798.25,301.36L800.85,302.22L803.39,303.10L805.86,304.02L808.28,304.91L810.63,305.79L812.93,306.64L815.18,307.47L817.37,308.29L819.52,309.09L821.62,309.85L823.68,310.58L825.69,311.29L827.67,311.99L829.60,312.68L831.50,313.35L833.36,314.01L835.19,314.65L836.98,315.28L838.74,315.91L840.47,316.52" fill="none" stroke="#ffa500" stroke-width="1.25" stroke-linejoin="round"/>
<path d="M442.60,269.63L448.20,269.63L445.40,264.03ZM510.33,211.64L515.93,211.64L513.13,206.04ZM549.95,233.80L555.55,233.80L552.75,228.20ZM578.06,221.66L583.66,221.66L580.86,216.06ZM599.87,239.42L605.47,239.42L602.67,233.82ZM617.68,235.78L623.28,235.78L620.48,230.18ZM632.75,244.58L638.35,244.58L635.55,238.98ZM645.80,262.80L651.40,262.80L648.60,257.20ZM657.30,264.62L662.90,264.62L660.10,259.02ZM667.60,271.15L673.20,271.15L670.40,265.55ZM676.91,273.12L682.51,273.12L679.71,267.52ZM685.42,277.52L691.02,277.52L688.22,271.92ZM693.24,280.10L698.84,280.10L696.04,274.50ZM700.48,281.01L706.08,281.01L703.28,275.41ZM707.22,283.44L712.82,283.44L710.02,277.84ZM713.53,285.97L719.13,285.97L716.33,280.37ZM719.45,286.95L725.05,286.95L722.25,281.35ZM725.04,287.86L730.64,287.86L727.84,282.26ZM730.32,288.90L735.92,288.90L733.12,283.30ZM735.33,290.21L740.93,290.21L738.13,284.61ZM740.10,291.45L745.70,291.45L742.90,285.85ZM744.65,292.61L750.25,292.61L747.45,287.01ZM748.99,293.37L754.59,293.37L751.79,287.77ZM753.15,294.09L758.75,294.09L755.95,288.49ZM757.14,294.78L762.74,294.78L759.94,289.18ZM760.97,295.57L766.57,295.57L763.77,289.97ZM764.66,296.65L770.26,296.65L767.46,291.05ZM768.21,297.42L773.81,297.42L771.01,291.82ZM771.64,297.97L777.24,297.97L774.44,292.37ZM774.95,298.49L780.55,298.49L777.75,292.89ZM778.16,299.00L783.76,299.00L780.96,293.40ZM781.26,299.49L786.86,299.49L784.06,293.89ZM784.27,300.45L789.87,300.45L787.07,294.85ZM787.18,301.42L792.78,301.42L789.98,295.82ZM790.02,302.36L795.62,302.36L792.82,296.76ZM792.77,303.27L798.37,303.27L795.57,297.67ZM795.45,304.16L801.05,304.16L798.25,298.56ZM798.05,305.02L803.65,305.02L800.85,299.42ZM800.59,305.90L806.19,305.90L803.39,300.30ZM803.06,306.82L808.66,306.82L805.86,301.22ZM805.48,307.71L811.08,307.71L808.28,302.11ZM807.83,308.59L813.43,308.59L810.63,302.99ZM810.13,309.44L815.73,309.44L812.93,303.84ZM812.38,310.27L817.98,310.27L815.18,304.67ZM814.57,311.09L820.17,311.09L817.37,305.49ZM816.72,311.89L822.32,311.89L819.52,306.29ZM818.82,312.65L824.42,312.65L821.62,307.05ZM820.88,313.38L826.48,313.38L823.68,307.78ZM822.89,314.09L828.49,314.09L825.69,308.49ZM824.87,314.79L830.47,314.79L827.67,309.19ZM826.80,315.48L832.40,315.48L829.60,309.88ZM828.70,316.15L834.30,316.15L831.50,310.55ZM830.56,316.81L836.16,316.81L833.36,311.21ZM832.39,317.45L837.99,317.45L835.19,311.85ZM834.18,318.08L839.78,318.08L836.98,312.48ZM835.94,318.71L841.54,318.71L838.74,313.11ZM837.67,319.32L843.27,319.32L840.47,313.72Z" fill="#ffa500" stroke="#ffa500" stroke-width="1.0" stroke-linejoin="miter"/>
<path d="M445.40,276.85L513.13,205.04L552.75,226.30L580.86,212.03L602.67,230.24L620.48,226.60L635.55,233.89L648.60,250.89L660.10,251.19L670.40,256.81L679.71,256.96L688.22,258.93L696.04,260.60L703.28,257.72L710.02,258.17L716.33,255.75L722.25,253.01L727.84,251.80L733.12,249.83L738.13,248.54L742.90,247.32L747.45,245.37L751.79,243.44L755.95,241.60L759.94,239.86L763.77,238.21L767.46,236.61L771.01,234.46L774.44,231.80L777.75,229.23L780.96,227.38L784.06,225.81L787.07,224.29L789.98,222.81L792.82,221.38L795.57,220.33L798.25,219.39L800.85,218.47L803.39,217.57L805.86,216.69L808.28,215.88L810.63,215.28L812.93,214.70L815.18,214.13L817.37,213.58L819.52,213.03L821.62,212.50L823.68,211.98L825.69,211.37L827.67,210.67L829.60,209.98L831.50,209.30L833.36,208.64L835.19,207.99L836.98,207.35L838.74,206.72L840.47,206.10" fill="none" stroke="#0000ff" stroke-width="1.25" stroke-linejoin="round"/>
<circle cx="445.40" cy="276.85" r="2.80" fill="#0000ff" stroke="#0000ff" stroke-width="1.0"/><circle cx="513.13" cy="205.04" r="2.80" fill="#0000ff" stroke="#0000ff" stroke-width="1.0"/><circle cx="552.75" cy="226.30" r="2.80" fill="#0000ff" stroke="#0000ff" stroke-width="1.0"/><circle cx="580.86" cy="212.03" r="2.80" fill="#0000ff" stroke="#0000ff" stroke-width="1.0"/><circle cx="602.67" cy="230.24" r="2.80" fill="#0000ff" stroke="#0000ff" stroke-width="1.0"/><circle cx="620.48" cy="226.60" r="2.80" fill="#0000ff" stroke="#0000ff" stroke-width="1.0"/><circle cx="635.55" cy="233.89" r="2.80" fill="#0000ff" stroke="#0000ff" stroke-width="1.0"/><circle cx="648.60" cy="250.89" r="2.80" fill="#0000ff" stroke="#0000ff" stroke-width="1.0"/><circle cx="660.10" cy="251.19" r="2.80" fill="#0000ff" stroke="#0000ff" stroke-width="1.0"/><circle cx="670.40" cy="256.81" r="2.80" fill="#0000ff" stroke="#0000ff" stroke-width="1.0"/><circle cx="679.71" cy="256.96" r="2.80" fill="#0000ff" stroke="#0000ff" stroke-width="1.0"/><circle cx="688.22" cy="258.93" r="2.80" fill="#0000ff" stroke="#0000ff" stroke-width="1.0"/><circle cx="696.04" cy="260.60" r="2.80" fill="#0000ff" stroke="#0000ff" stroke-width="1.0"/><circle cx="703.28" cy="257.72" r="2.80" fill="#0000ff" stroke="#0000ff" stroke-width="1.0"/><circle cx="710.02" cy="258.17" r="2.80" fill="#0000ff" stroke="#0000ff" stroke-width="1.0"/><circle cx="716.33" cy="255.75" r="2.80" fill="#0000ff" stroke="#0000ff" stroke-width="1.0"/><circle cx="722.25" cy="253.01" r="2.80" fill="#0000ff" stroke="#0000ff" stroke-width="1.0"/><circle cx="727.84" cy="251.80" r="2.80" fill="#0000ff" stroke="#0000ff" stroke-width="1.0"/><circle cx="733.12" cy="249.83" r="2.80" fill="#0000ff" stroke="#0000ff" stroke-width="1.0"/><circle cx="738.13" cy="248.54" r="2.80" fill="#0000ff" stroke="#0000ff" stroke-width="1.0"/><circle cx="742.90" cy="247.32" r="2.80" fill="#0000ff" stroke="#0000ff" stroke-width="1.0"/><circle cx="747.45" cy="245.37" r="2.80" fill="#0000ff" stroke="#0000ff" stroke-width="1.0"/><circle cx="751.79" cy="243.44" r="2.80" fill="#0000ff" stroke="#0000ff" stroke-width="1.0"/><circle cx="755.95" cy="241.60" r="2.80" fill="#0000ff" stroke="#0000ff" stroke-width="1.0"/><circle cx="759.94" cy="239.86" r="2.80" fill="#0000ff" stroke="#0000ff" stroke-width="1.0"/><circle cx="763.77" cy="238.21" r="2.80" fill="#0000ff" stroke="#0000ff" stroke-width="1.0"/><circle cx="767.46" cy="236.61" r="2.80" fill="#0000ff" stroke="#0000ff" stroke-width="1.0"/><circle cx="771.01" cy="234.46" r="2.80" fill="#0000ff" stroke="#0000ff" stroke-width="1.0"/><circle cx="774.44" cy="231.80" r="2.80" fill="#0000ff" stroke="#0000ff" stroke-width="1.0"/><circle cx="777.75" cy="229.23" r="2.80" fill="#0000ff" stroke="#0000ff" stroke-width="1.0"/><circle cx="780.96" cy="227.38" r="2.80" fill="#0000ff" stroke="#0000ff" stroke-width="1.0"/><circle cx="784.06" cy="225.81" r="2.80" fill="#0000ff" stroke="#0000ff" stroke-width="1.0"/><circle cx="787.07" cy="224.29" r="2.80" fill="#0000ff" stroke="#0000ff" stroke-width="1.0"/><circle cx="789.98" cy="222.81" r="2.80" fill="#0000ff" stroke="#0000ff" stroke-width="1.0"/><circle cx="792.82" cy="221.38" r="2.80" fill="#0000ff" stroke="#0000ff" stroke-width="1.0"/><circle cx="795.57" cy="220.33" r="2.80" fill="#0000ff" stroke="#0000ff" stroke-width="1.0"/><circle cx="798.25" cy="219.39" r="2.80" fill="#0000ff" stroke="#0000ff" stroke-width="1.0"/><circle cx="800.85" cy="218.47" r="2.80" fill="#0000ff" stroke="#0000ff" stroke-width="1.0"/><circle cx="803.39" cy="217.57" r="2.80" fill="#0000ff" stroke="#0000ff" stroke-width="1.0"/><circle cx="805.86" cy="216.69" r="2.80" fill="#0000ff" stroke="#0000ff" stroke-width="1.0"/><circle cx="808.28" cy="215.88" r="2.80" fill="#0000ff" stroke="#0000ff" stroke-width="1.0"/><circle cx="810.63" cy="215.28" r="2.80" fill="#0000ff" stroke="#0000ff" stroke-width="1.0"/><circle cx="812.93" cy="214.70" r="2.80" fill="#0000ff" stroke="#0000ff" stroke-width="1.0"/><circle cx="815.18" cy="214.13" r="2.80" fill="#0000ff" stroke="#0000ff" stroke-width="1.0"/><circle cx="817.37" cy="213.58" r="2.80" fill="#0000ff" stroke="#0000ff" stroke-width="1.0"/><circle cx="819.52" cy="213.03" r="2.80" fill="#0000ff" stroke="#0000ff" stroke-width="1.0"/><circle cx="821.62" cy="212.50" r="2.80" fill="#0000ff" stroke="#0000ff" stroke-width="1.0"/><circle cx="823.68" cy="211.98" r="2.80" fill="#0000ff" stroke="#0000ff" stroke-width="1.0"/><circle cx="825.69" cy="211.37" r="2.80" fill="#0000ff" stroke="#0000ff" stroke-width="1.0"/><circle cx="827.67" cy="210.67" r="2.80" fill="#0000ff" stroke="#0000ff" stroke-width="1.0"/><circle cx="829.60" cy="209.98" r="2.80" fill="#0000ff" stroke="#0000ff" stroke-width="1.0"/><circle cx="831.50" cy="209.30" r="2.80" fill="#0000ff" stroke="#0000ff" stroke-width="1.0"/><circle cx="833.36" cy="208.64" r="2.80" fill="#0000ff" stroke="#0000ff" stroke-width="1.0"/><circle cx="835.19" cy="207.99" r="2.80" fill="#0000ff" stroke="#0000ff" stroke-width="1.0"/><circle cx="836.98" cy="207.35" r="2.80" fill="#0000ff" stroke="#0000ff" stroke-width="1.0"/><circle cx="838.74" cy="206.72" r="2.80" fill="#0000ff" stroke="#0000ff" stroke-width="1.0"/><circle cx="840.47" cy="206.10" r="2.80" fill="#0000ff" stroke="#0000ff" stroke-width="1.0"/>
<path d="M445.40,276.85L513.13,203.53L552.75,223.87L580.86,209.14L602.67,225.69L620.48,221.14L635.55,228.42L648.60,244.97L660.10,244.97L670.40,250.89L679.71,251.50L688.22,254.53L696.04,257.11L703.28,256.05L710.02,256.96L716.33,256.96L722.25,256.66L727.84,256.96L733.12,256.96L738.13,257.57L742.90,257.46L747.45,257.36L751.79,257.27L755.95,257.18L759.94,257.09L763.77,257.01L767.46,256.84L771.01,256.54L774.44,256.25L777.75,255.97L780.96,255.80L784.06,256.13L787.07,256.45L789.98,256.76L792.82,257.05L795.57,257.45L798.25,258.10L800.85,258.73L803.39,259.35L805.86,259.95L808.28,260.53L810.63,261.19L812.93,261.90L815.18,262.58L817.37,263.25L819.52,263.91L821.62,264.55L823.68,265.19L825.69,266.08L827.67,266.95L829.60,267.80L831.50,268.63L833.36,269.45L835.19,270.25L836.98,271.04L838.74,271.81L840.47,272.57" fill="none" stroke="#008000" stroke-width="1.25" stroke-linejoin="round"/>
<path d="M444.47,274.05L446.33,274.05L446.33,275.91L448.20,275.91L448.20,277.78L446.33,277.78L446.33,279.65L444.47,279.65L444.47,277.78L442.60,277.78L442.60,275.91L444.47,275.91ZM512.20,200.73L514.07,200.73L514.07,202.59L515.93,202.59L515.93,204.46L514.07,204.46L514.07,206.33L512.20,206.33L512.20,204.46L510.33,204.46L510.33,202.59L512.20,202.59ZM551.82,221.07L553.69,221.07L553.69,222.93L555.55,222.93L555.55,224.80L553.69,224.80L553.69,226.67L551.82,226.67L551.82,224.80L549.95,224.80L549.95,222.93L551.82,222.93ZM579.93,206.34L581.80,206.34L581.80,208.21L583.66,208.21L583.66,210.08L581.80,210.08L581.80,211.94L579.93,211.94L579.93,210.08L578.06,210.08L578.06,208.21L579.93,208.21ZM601.73,222.89L603.60,222.89L603.60,224.76L605.47,224.76L605.47,226.62L603.60,226.62L603.60,228.49L601.73,228.49L601.73,226.62L599.87,226.62L599.87,224.76L601.73,224.76ZM619.55,218.34L621.42,218.34L621.42,220.20L623.28,220.20L623.28,222.07L621.42,222.07L621.42,223.94L619.55,223.94L619.55,222.07L617.68,222.07L617.68,220.20L619.55,220.20ZM634.61,225.62L636.48,225.62L636.48,227.49L638.35,227.49L638.35,229.36L636.48,229.36L636.48,231.22L634.61,231.22L634.61,229.36L632.75,229.36L632.75,227.49L634.61,227.49ZM647.66,242.17L649.53,242.17L649.53,244.03L651.40,244.03L651.40,245.90L649.53,245.90L649.53,247.77L647.66,247.77L647.66,245.90L645.80,245.90L645.80,244.03L647.66,244.03ZM659.17,242.17L661.04,242.17L661.04,244.03L662.90,244.03L662.90,245.90L661.04,245.90L661.04,247.77L659.17,247.77L659.17,245.90L657.30,245.90L657.30,244.03L659.17,244.03ZM669.47,248.09L671.33,248.09L671.33,249.96L673.20,249.96L673.20,251.82L671.33,251.82L671.33,253.69L669.47,253.69L669.47,251.82L667.60,251.82L667.60,249.96L669.47,249.96ZM678.78,248.70L680.65,248.70L680.65,250.56L682.51,250.56L682.51,252.43L680.65,252.43L680.65,254.30L678.78,254.30L678.78,252.43L676.91,252.43L676.91,250.56L678.78,250.56ZM687.28,251.73L689.15,251.73L689.15,253.60L691.02,253.60L691.02,255.46L689.15,255.46L689.15,257.33L687.28,257.33L687.28,255.46L685.42,255.46L685.42,253.60L687.28,253.60ZM695.10,254.31L696.97,254.31L696.97,256.18L698.84,256.18L698.84,258.05L696.97,258.05L696.97,259.91L695.10,259.91L695.10,258.05L693.24,258.05L693.24,256.18L695.10,256.18ZM702.35,253.25L704.21,253.25L704.21,255.12L706.08,255.12L706.08,256.98L704.21,256.98L704.21,258.85L702.35,258.85L702.35,256.98L700.48,256.98L700.48,255.12L702.35,255.12ZM709.09,254.16L710.95,254.16L710.95,256.03L712.82,256.03L712.82,257.89L710.95,257.89L710.95,259.76L709.09,259.76L709.09,257.89L707.22,257.89L707.22,256.03L709.09,256.03ZM715.39,254.16L717.26,254.16L717.26,256.03L719.13,256.03L719.13,257.89L717.26,257.89L717.26,259.76L715.39,259.76L715.39,257.89L713.53,257.89L713.53,256.03L715.39,256.03ZM721.32,253.86L723.18,253.86L723.18,255.72L725.05,255.72L725.05,257.59L723.18,257.59L723.18,259.46L721.32,259.46L721.32,257.59L719.45,257.59L719.45,255.72L721.32,255.72ZM726.90,254.16L728.77,254.16L728.77,256.03L730.64,256.03L730.64,257.89L728.77,257.89L728.77,259.76L726.90,259.76L726.90,257.89L725.04,257.89L725.04,256.03L726.90,256.03ZM732.19,254.16L734.05,254.16L734.05,256.03L735.92,256.03L735.92,257.89L734.05,257.89L734.05,259.76L732.19,259.76L732.19,257.89L730.32,257.89L730.32,256.03L732.19,256.03ZM737.20,254.77L739.07,254.77L739.07,256.63L740.93,256.63L740.93,258.50L739.07,258.50L739.07,260.37L737.20,260.37L737.20,258.50L735.33,258.50L735.33,256.63L737.20,256.63ZM741.97,254.66L743.83,254.66L743.83,256.53L745.70,256.53L745.70,258.40L743.83,258.40L743.83,260.26L741.97,260.26L741.97,258.40L740.10,258.40L740.10,256.53L741.97,256.53ZM746.51,254.56L748.38,254.56L748.38,256.43L750.25,256.43L750.25,258.30L748.38,258.30L748.38,260.16L746.51,260.16L746.51,258.30L744.65,258.30L744.65,256.43L746.51,256.43ZM750.86,254.47L752.72,254.47L752.72,256.34L754.59,256.34L754.59,258.20L752.72,258.20L752.72,260.07L750.86,260.07L750.86,258.20L748.99,258.20L748.99,256.34L750.86,256.34ZM755.01,254.38L756.88,254.38L756.88,256.25L758.75,256.25L758.75,258.11L756.88,258.11L756.88,259.98L755.01,259.98L755.01,258.11L753.15,258.11L753.15,256.25L755.01,256.25ZM759.00,254.29L760.87,254.29L760.87,256.16L762.74,256.16L762.74,258.03L760.87,258.03L760.87,259.89L759.00,259.89L759.00,258.03L757.14,258.03L757.14,256.16L759.00,256.16ZM762.84,254.21L764.70,254.21L764.70,256.08L766.57,256.08L766.57,257.94L764.70,257.94L764.70,259.81L762.84,259.81L762.84,257.94L760.97,257.94L760.97,256.08L762.84,256.08ZM766.52,254.04L768.39,254.04L768.39,255.90L770.26,255.90L770.26,257.77L768.39,257.77L768.39,259.64L766.52,259.64L766.52,257.77L764.66,257.77L764.66,255.90L766.52,255.90ZM770.08,253.74L771.94,253.74L771.94,255.60L773.81,255.60L773.81,257.47L771.94,257.47L771.94,259.34L770.08,259.34L770.08,257.47L768.21,257.47L768.21,255.60L770.08,255.60ZM773.51,253.45L775.37,253.45L775.37,255.32L777.24,255.32L777.24,257.18L775.37,257.18L775.37,259.05L773.51,259.05L773.51,257.18L771.64,257.18L771.64,255.32L773.51,255.32ZM776.82,253.17L778.69,253.17L778.69,255.04L780.55,255.04L780.55,256.90L778.69,256.90L778.69,258.77L776.82,258.77L776.82,256.90L774.95,256.90L774.95,255.04L776.82,255.04ZM780.02,253.00L781.89,253.00L781.89,254.87L783.76,254.87L783.76,256.74L781.89,256.74L781.89,258.60L780.02,258.60L780.02,256.74L778.16,256.74L778.16,254.87L780.02,254.87ZM783.13,253.33L784.99,253.33L784.99,255.20L786.86,255.20L786.86,257.07L784.99,257.07L784.99,258.93L783.13,258.93L783.13,257.07L781.26,257.07L781.26,255.20L783.13,255.20ZM786.13,253.65L788.00,253.65L788.00,255.52L789.87,255.52L789.87,257.38L788.00,257.38L788.00,259.25L786.13,259.25L786.13,257.38L784.27,257.38L784.27,255.52L786.13,255.52ZM789.05,253.96L790.92,253.96L790.92,255.82L792.78,255.82L792.78,257.69L790.92,257.69L790.92,259.56L789.05,259.56L789.05,257.69L787.18,257.69L787.18,255.82L789.05,255.82ZM791.88,254.25L793.75,254.25L793.75,256.12L795.62,256.12L795.62,257.99L793.75,257.99L793.75,259.85L791.88,259.85L791.88,257.99L790.02,257.99L790.02,256.12L791.88,256.12ZM794.63,254.65L796.50,254.65L796.50,256.52L798.37,256.52L798.37,258.38L796.50,258.38L796.50,260.25L794.63,260.25L794.63,258.38L792.77,258.38L792.77,256.52L794.63,256.52ZM797.31,255.30L799.18,255.30L799.18,257.17L801.05,257.17L801.05,259.03L799.18,259.03L799.18,260.90L797.31,260.90L797.31,259.03L795.45,259.03L795.45,257.17L797.31,257.17ZM799.92,255.93L801.78,255.93L801.78,257.80L803.65,257.80L803.65,259.66L801.78,259.66L801.78,261.53L799.92,261.53L799.92,259.66L798.05,259.66L798.05,257.80L799.92,257.80ZM802.46,256.55L804.32,256.55L804.32,258.41L806.19,258.41L806.19,260.28L804.32,260.28L804.32,262.15L802.46,262.15L802.46,260.28L800.59,260.28L800.59,258.41L802.46,258.41ZM804.93,257.15L806.80,257.15L806.80,259.01L808.66,259.01L808.66,260.88L806.80,260.88L806.80,262.75L804.93,262.75L804.93,260.88L803.06,260.88L803.06,259.01L804.93,259.01ZM807.34,257.73L809.21,257.73L809.21,259.60L811.08,259.60L811.08,261.46L809.21,261.46L809.21,263.33L807.34,263.33L807.34,261.46L805.48,261.46L805.48,259.60L807.34,259.60ZM809.70,258.39L811.56,258.39L811.56,260.26L813.43,260.26L813.43,262.13L811.56,262.13L811.56,263.99L809.70,263.99L809.70,262.13L807.83,262.13L807.83,260.26L809.70,260.26ZM812.00,259.10L813.86,259.10L813.86,260.96L815.73,260.96L815.73,262.83L813.86,262.83L813.86,264.70L812.00,264.70L812.00,262.83L810.13,262.83L810.13,260.96L812.00,260.96ZM814.24,259.78L816.11,259.78L816.11,261.65L817.98,261.65L817.98,263.52L816.11,263.52L816.11,265.38L814.24,265.38L814.24,263.52L812.38,263.52L812.38,261.65L814.24,261.65ZM816.44,260.45L818.31,260.45L818.31,262.32L820.17,262.32L820.17,264.19L818.31,264.19L818.31,266.05L816.44,266.05L816.44,264.19L814.57,264.19L814.57,262.32L816.44,262.32ZM818.59,261.11L820.45,261.11L820.45,262.98L822.32,262.98L822.32,264.84L820.45,264.84L820.45,266.71L818.59,266.71L818.59,264.84L816.72,264.84L816.72,262.98L818.59,262.98ZM820.69,261.75L822.56,261.75L822.56,263.62L824.42,263.62L824.42,265.49L822.56,265.49L822.56,267.35L820.69,267.35L820.69,265.49L818.82,265.49L818.82,263.62L820.69,263.62ZM822.75,262.39L824.61,262.39L824.61,264.26L826.48,264.26L826.48,266.13L824.61,266.13L824.61,267.99L822.75,267.99L822.75,266.13L820.88,266.13L820.88,264.26L822.75,264.26ZM824.76,263.28L826.63,263.28L826.63,265.14L828.49,265.14L828.49,267.01L826.63,267.01L826.63,268.88L824.76,268.88L824.76,267.01L822.89,267.01L822.89,265.14L824.76,265.14ZM826.73,264.15L828.60,264.15L828.60,266.01L830.47,266.01L830.47,267.88L828.60,267.88L828.60,269.75L826.73,269.75L826.73,267.88L824.87,267.88L824.87,266.01L826.73,266.01ZM828.67,265.00L830.54,265.00L830.54,266.86L832.40,266.86L832.40,268.73L830.54,268.73L830.54,270.60L828.67,270.60L828.67,268.73L826.80,268.73L826.80,266.86L828.67,266.86ZM830.57,265.83L832.43,265.83L832.43,267.70L834.30,267.70L834.30,269.56L832.43,269.56L832.43,271.43L830.57,271.43L830.57,269.56L828.70,269.56L828.70,267.70L830.57,267.70ZM832.43,266.65L834.30,266.65L834.30,268.51L836.16,268.51L836.16,270.38L834.30,270.38L834.30,272.25L832.43,272.25L832.43,270.38L830.56,270.38L830.56,268.51L832.43,268.51ZM834.26,267.45L836.12,267.45L836.12,269.32L837.99,269.32L837.99,271.18L836.12,271.18L836.12,273.05L834.26,273.05L834.26,271.18L832.39,271.18L832.39,269.32L834.26,269.32ZM836.05,268.24L837.91,268.24L837.91,270.10L839.78,270.10L839.78,271.97L837.91,271.97L837.91,273.84L836.05,273.84L836.05,271.97L834.18,271.97L834.18,270.10L836.05,270.10ZM837.81,269.01L839.68,269.01L839.68,270.88L841.54,270.88L841.54,272.74L839.68,272.74L839.68,274.61L837.81,274.61L837.81,272.74L835.94,272.74L835.94,270.88L837.81,270.88ZM839.54,269.77L841.41,269.77L841.41,271.64L843.27,271.64L843.27,273.50L841.41,273.50L841.41,275.37L839.54,275.37L839.54,273.50L837.67,273.50L837.67,271.64L839.54,271.64Z" fill="#008000" stroke="#008000" stroke-width="1.0" stroke-linejoin="miter"/>
</g>
<rect x="445.4" y="144.2" width="128.0" height="32.0" rx="2" ry="2" fill="#fff" fill-opacity="0.8" stroke="#cccccc" stroke-width="1"/>
<line x1="448.7" x2="468.9" y1="152.3" y2="152.3" stroke="#ff00ff" stroke-width="1.25"/>
<path d="M457.87,149.50L459.73,149.50L459.73,151.37L461.60,151.37L461.60,153.23L459.73,153.23L459.73,155.10L457.87,155.10L457.87,153.23L456.00,153.23L456.00,151.37L457.87,151.37Z" fill="#ff00ff" stroke="#ff00ff" stroke-width="1.0"/>
<text x="475.9" y="155.9" class="lg">NBT</text>
<line x1="448.7" x2="468.9" y1="167.1" y2="167.1" stroke="#800080" stroke-width="1.25"/>
<path d="M457.40,164.30L458.80,165.70L460.20,164.30L461.60,165.70L460.20,167.10L461.60,168.50L460.20,169.90L458.80,168.50L457.40,169.90L456.00,168.50L457.40,167.10L456.00,165.70Z" fill="#800080" stroke="#800080" stroke-width="1.0"/>
<text x="475.9" y="170.7" class="lg">GM-C</text>
<line x1="521.0" x2="541.4" y1="152.3" y2="152.3" stroke="#ff0000" stroke-width="1.25"/>
<path d="M528.40,149.50L534.00,149.50L531.20,155.10Z" fill="#ff0000" stroke="#ff0000" stroke-width="1.0"/>
<text x="548.1" y="155.9" class="lg">ST-T</text>
<line x1="521.0" x2="541.4" y1="167.1" y2="167.1" stroke="#ffa500" stroke-width="1.25"/>
<path d="M528.40,169.90L534.00,169.90L531.20,164.30Z" fill="#ffa500" stroke="#ffa500" stroke-width="1.0"/>
<text x="548.1" y="170.7" class="lg">ST-L</text>
<rect x="445.4" y="291.0" width="139.30000000000007" height="47.19999999999999" rx="2" ry="2" fill="#fff" fill-opacity="0.8" stroke="#cccccc" stroke-width="1"/>
<line x1="448.8" x2="469.2" y1="299.1" y2="299.1" stroke="#ff0000" stroke-width="1.25"/>
<path d="M456.20,296.30L461.80,296.30L459.00,301.90Z" fill="#ff0000" stroke="#ff0000" stroke-width="1.0"/>
<text x="475.8" y="302.7" class="lg">ST-T</text>
<line x1="448.8" x2="469.2" y1="314.0" y2="314.0" stroke="#00ffff" stroke-width="1.25"/>
<circle cx="459.0" cy="314.0" r="1.6" fill="#00ffff"/>
<text x="475.8" y="317.6" class="lg">Laz-T</text>
<line x1="448.8" x2="469.2" y1="328.9" y2="328.9" stroke="#00ff00" stroke-width="1.25"/>
<path d="M456.2,326.09999999999997L461.8,331.7M456.2,331.7L461.8,326.09999999999997" stroke="#00ff00" stroke-width="1.1"/>
<text x="475.8" y="332.5" class="lg">Tink-T</text>
<line x1="524.8" x2="545.1" y1="299.1" y2="299.1" stroke="#ffa500" stroke-width="1.25"/>
<path d="M532.15,301.90L537.75,301.90L534.95,296.30Z" fill="#ffa500" stroke="#ffa500" stroke-width="1.0"/>
<text x="551.5" y="302.7" class="lg">ST-L</text>
<line x1="524.8" x2="545.1" y1="314.0" y2="314.0" stroke="#0000ff" stroke-width="1.25"/>
<circle cx="534.95" cy="314.0" r="2.8" fill="#0000ff" stroke="#0000ff" stroke-width="1.0"/>
<text x="551.5" y="317.6" class="lg">Laz-L</text>
<line x1="524.8" x2="545.1" y1="328.9" y2="328.9" stroke="#008000" stroke-width="1.25"/>
<path d="M534.02,326.10L535.88,326.10L535.88,327.97L537.75,327.97L537.75,329.83L535.88,329.83L535.88,331.70L534.02,331.70L534.02,329.83L532.15,329.83L532.15,327.97L534.02,327.97Z" fill="#008000" stroke="#008000" stroke-width="1.0"/>
<text x="551.5" y="332.5" class="lg">Tink-L</text>
<rect x="44.4" y="20.0" width="792.2" height="323.5" fill="none" stroke="#000" stroke-width="0.68"/>
<line x1="44.4" x2="836.6" y1="181.5" y2="181.5" stroke="#000" stroke-width="0.68"/>
<line x1="440.4" x2="440.4" y1="20.0" y2="343.5" stroke="#000" stroke-width="0.68"/>
<line x1="42.0" x2="44.4" y1="165.18" y2="165.18" stroke="#000" stroke-width="0.75"/>
<line x1="42.0" x2="44.4" y1="321.02" y2="321.02" stroke="#000" stroke-width="0.75"/>
<line x1="42.0" x2="44.4" y1="132.94" y2="132.94" stroke="#000" stroke-width="0.75"/>
<line x1="42.0" x2="44.4" y1="290.66" y2="290.66" stroke="#000" stroke-width="0.75"/>
<line x1="42.0" x2="44.4" y1="100.70" y2="100.70" stroke="#000" stroke-width="0.75"/>
<line x1="42.0" x2="44.4" y1="260.30" y2="260.30" stroke="#000" stroke-width="0.75"/>
<line x1="42.0" x2="44.4" y1="68.46" y2="68.46" stroke="#000" stroke-width="0.75"/>
<line x1="42.0" x2="44.4" y1="229.94" y2="229.94" stroke="#000" stroke-width="0.75"/>
<line x1="42.0" x2="44.4" y1="36.22" y2="36.22" stroke="#000" stroke-width="0.75"/>
<line x1="42.0" x2="44.4" y1="199.58" y2="199.58" stroke="#000" stroke-width="0.75"/>
<line x1="438.0" x2="440.4" y1="165.18" y2="165.18" stroke="#000" stroke-width="0.75"/>
<line x1="438.0" x2="440.4" y1="321.02" y2="321.02" stroke="#000" stroke-width="0.75"/>
<line x1="438.0" x2="440.4" y1="132.94" y2="132.94" stroke="#000" stroke-width="0.75"/>
<line x1="438.0" x2="440.4" y1="290.66" y2="290.66" stroke="#000" stroke-width="0.75"/>
<line x1="438.0" x2="440.4" y1="100.70" y2="100.70" stroke="#000" stroke-width="0.75"/>
<line x1="438.0" x2="440.4" y1="260.30" y2="260.30" stroke="#000" stroke-width="0.75"/>
<line x1="438.0" x2="440.4" y1="68.46" y2="68.46" stroke="#000" stroke-width="0.75"/>
<line x1="438.0" x2="440.4" y1="229.94" y2="229.94" stroke="#000" stroke-width="0.75"/>
<line x1="438.0" x2="440.4" y1="36.22" y2="36.22" stroke="#000" stroke-width="0.75"/>
<line x1="438.0" x2="440.4" y1="199.58" y2="199.58" stroke="#000" stroke-width="0.75"/>
<text x="40.2" y="169.58" class="tk" text-anchor="end">0.6</text>
<text x="40.2" y="325.42" class="tk" text-anchor="end">0.6</text>
<text x="40.2" y="137.34" class="tk" text-anchor="end">0.8</text>
<text x="40.2" y="295.06" class="tk" text-anchor="end">0.8</text>
<text x="40.2" y="105.10" class="tk" text-anchor="end">1.0</text>
<text x="40.2" y="264.70" class="tk" text-anchor="end">1.0</text>
<text x="40.2" y="72.86" class="tk" text-anchor="end">1.2</text>
<text x="40.2" y="234.34" class="tk" text-anchor="end">1.2</text>
<text x="40.2" y="40.62" class="tk" text-anchor="end">1.4</text>
<text x="40.2" y="203.98" class="tk" text-anchor="end">1.4</text>
<line x1="57.70" x2="57.70" y1="343.5" y2="345.0" stroke="#000" stroke-width="0.6"/>
<line x1="69.20" x2="69.20" y1="343.5" y2="345.0" stroke="#000" stroke-width="0.6"/>
<line x1="147.23" x2="147.23" y1="343.5" y2="345.0" stroke="#000" stroke-width="0.6"/>
<line x1="186.85" x2="186.85" y1="343.5" y2="345.0" stroke="#000" stroke-width="0.6"/>
<line x1="214.96" x2="214.96" y1="343.5" y2="345.0" stroke="#000" stroke-width="0.6"/>
<line x1="236.77" x2="236.77" y1="343.5" y2="345.0" stroke="#000" stroke-width="0.6"/>
<line x1="254.58" x2="254.58" y1="343.5" y2="345.0" stroke="#000" stroke-width="0.6"/>
<line x1="269.65" x2="269.65" y1="343.5" y2="345.0" stroke="#000" stroke-width="0.6"/>
<line x1="282.70" x2="282.70" y1="343.5" y2="345.0" stroke="#000" stroke-width="0.6"/>
<line x1="294.20" x2="294.20" y1="343.5" y2="345.0" stroke="#000" stroke-width="0.6"/>
<line x1="372.23" x2="372.23" y1="343.5" y2="345.0" stroke="#000" stroke-width="0.6"/>
<line x1="411.85" x2="411.85" y1="343.5" y2="345.0" stroke="#000" stroke-width="0.6"/>
<line x1="439.96" x2="439.96" y1="343.5" y2="345.0" stroke="#000" stroke-width="0.6"/>
<line x1="79.50" x2="79.50" y1="343.5" y2="345.7" stroke="#000" stroke-width="0.75"/>
<line x1="304.50" x2="304.50" y1="343.5" y2="345.7" stroke="#000" stroke-width="0.75"/>
<text x="66.2" y="357.2" class="tk">10<tspan class="sup" dy="-4.9">−1</tspan></text>
<text x="295.5" y="357.2" class="tk">10<tspan class="sup" dy="-4.9">0</tspan></text>
<line x1="453.70" x2="453.70" y1="343.5" y2="345.0" stroke="#000" stroke-width="0.6"/>
<line x1="465.20" x2="465.20" y1="343.5" y2="345.0" stroke="#000" stroke-width="0.6"/>
<line x1="543.23" x2="543.23" y1="343.5" y2="345.0" stroke="#000" stroke-width="0.6"/>
<line x1="582.85" x2="582.85" y1="343.5" y2="345.0" stroke="#000" stroke-width="0.6"/>
<line x1="610.96" x2="610.96" y1="343.5" y2="345.0" stroke="#000" stroke-width="0.6"/>
<line x1="632.77" x2="632.77" y1="343.5" y2="345.0" stroke="#000" stroke-width="0.6"/>
<line x1="650.58" x2="650.58" y1="343.5" y2="345.0" stroke="#000" stroke-width="0.6"/>
<line x1="665.65" x2="665.65" y1="343.5" y2="345.0" stroke="#000" stroke-width="0.6"/>
<line x1="678.70" x2="678.70" y1="343.5" y2="345.0" stroke="#000" stroke-width="0.6"/>
<line x1="690.20" x2="690.20" y1="343.5" y2="345.0" stroke="#000" stroke-width="0.6"/>
<line x1="768.23" x2="768.23" y1="343.5" y2="345.0" stroke="#000" stroke-width="0.6"/>
<line x1="807.85" x2="807.85" y1="343.5" y2="345.0" stroke="#000" stroke-width="0.6"/>
<line x1="835.96" x2="835.96" y1="343.5" y2="345.0" stroke="#000" stroke-width="0.6"/>
<line x1="475.50" x2="475.50" y1="343.5" y2="345.7" stroke="#000" stroke-width="0.75"/>
<line x1="700.50" x2="700.50" y1="343.5" y2="345.7" stroke="#000" stroke-width="0.75"/>
<text x="462.2" y="357.2" class="tk">10<tspan class="sup" dy="-4.9">−1</tspan></text>
<text x="691.5" y="357.2" class="tk">10<tspan class="sup" dy="-4.9">0</tspan></text>
<g transform="translate(209.0,373.7) scale(1.13,1)"><text x="0" y="0" class="xl"><tspan class="it">k</tspan><tspan dx="2.2">[</tspan><tspan class="it" dx="1.5">h/Mpc</tspan><tspan dx="0.3">]</tspan></text></g>
<g transform="translate(605.0,373.7) scale(1.13,1)"><text x="0" y="0" class="xl"><tspan class="it">k</tspan><tspan dx="2.2">[</tspan><tspan class="it" dx="1.5">h/Mpc</tspan><tspan dx="0.3">]</tspan></text></g>
<text x="237" y="15.2" class="ti">z=0</text>
<text x="633" y="15.2" class="ti">z=1</text>
<text transform="translate(15.0,142.8) rotate(-90) scale(1.045,1)" class="yl">B<tspan class="sub" dy="3.0">Theory</tspan><tspan dy="-3.0">/B</tspan><tspan class="sub" dy="3.0">Ref</tspan></text>
<text transform="translate(16.8,302.6) rotate(-90) scale(1.045,1)" class="yl">B<tspan class="sub" dy="3.0">Th,HM</tspan><tspan dy="-3.0">/B</tspan><tspan class="sub" dy="3.0">Ref</tspan></text>
</svg>
</body></html>
